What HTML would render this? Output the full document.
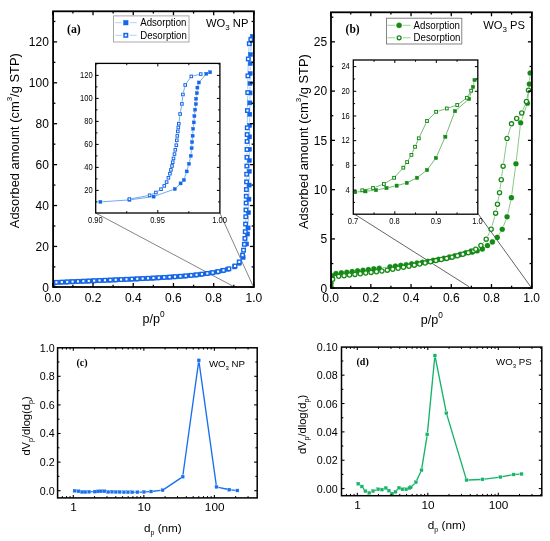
<!DOCTYPE html>
<html lang="en"><head><meta charset="utf-8"><title>WO3 NP / PS isotherms and pore size distributions</title>
<style>html,body{margin:0;padding:0;background:#fff}svg{display:block}</style></head><body>
<svg width="550" height="541" viewBox="0 0 550 541">
<rect width="550" height="541" fill="#fff"/>
<line x1="95.70" y1="213.00" x2="232.99" y2="286.20" stroke="#333" stroke-width="0.6" />
<line x1="219.90" y1="213.00" x2="253.10" y2="286.20" stroke="#333" stroke-width="0.6" />
<clipPath id="ca"><rect x="53.10" y="11.30" width="201.40" height="275.70"/></clipPath>
<g clip-path="url(#ca)">
<path fill="none" stroke="#8dbcf3" stroke-width="0.8" d="M230.69 268.27L231.54 267.97M241.02 260.68L241.39 260.13M243.95 254.37L245.81 247.05M246.90 240.76L247.24 237.18M248.17 224.74L248.43 215.84M248.61 209.45L248.81 202.33M248.96 195.93L249.12 188.27M249.22 181.88L249.29 174.58M249.34 168.18L249.37 163.73M249.42 157.33L249.46 152.52M249.50 146.12L249.54 140.07M249.59 133.67L249.64 128.69M249.70 122.29L249.74 117.48M249.80 111.08L249.85 106.10M249.93 99.70L249.97 96.14M250.03 89.74L250.04 86.71M250.09 80.31L250.13 76.75M250.20 70.35L250.23 66.79M250.34 60.39L250.41 57.72M250.75 51.33L251.45 42.23"/>
<path fill="none" stroke="#8dbcf3" stroke-width="0.8" d="M231.79 267.46L232.09 267.32M240.64 259.03L241.12 258.04M245.07 235.24L245.09 234.87M245.39 228.48L245.44 227.23M245.67 220.83L245.70 219.93M245.88 213.54L245.89 213.18M246.05 206.78L246.06 206.24M246.20 199.84L246.20 199.48M246.32 193.08L246.33 192.72M246.45 186.32L246.48 185.07M246.60 178.67L246.62 177.42M246.74 171.03L246.78 169.24M246.87 162.84L246.89 160.53M246.95 154.13L246.97 152.70M247.03 146.30L247.05 144.70M247.12 138.30L247.13 137.76M247.20 131.36L247.21 131.00M247.28 124.60L247.42 113.75M247.51 107.35L247.70 95.78M247.78 89.38L247.88 79.06M247.98 72.66L248.21 62.16M248.49 55.77L249.06 46.86"/>
<rect x="50.90" y="283.20" width="4.20" height="4.20" fill="#1466e8" stroke="#1466e8" stroke-width="0.4"/>
<rect x="53.11" y="280.44" width="4.20" height="4.20" fill="#1466e8" stroke="#1466e8" stroke-width="0.4"/>
<rect x="58.50" y="280.21" width="4.20" height="4.20" fill="#1466e8" stroke="#1466e8" stroke-width="0.4"/>
<rect x="63.89" y="279.98" width="4.20" height="4.20" fill="#1466e8" stroke="#1466e8" stroke-width="0.4"/>
<rect x="69.28" y="279.75" width="4.20" height="4.20" fill="#1466e8" stroke="#1466e8" stroke-width="0.4"/>
<rect x="74.67" y="279.52" width="4.20" height="4.20" fill="#1466e8" stroke="#1466e8" stroke-width="0.4"/>
<rect x="80.06" y="279.29" width="4.20" height="4.20" fill="#1466e8" stroke="#1466e8" stroke-width="0.4"/>
<rect x="85.45" y="279.06" width="4.20" height="4.20" fill="#1466e8" stroke="#1466e8" stroke-width="0.4"/>
<rect x="90.84" y="278.83" width="4.20" height="4.20" fill="#1466e8" stroke="#1466e8" stroke-width="0.4"/>
<rect x="96.23" y="278.60" width="4.20" height="4.20" fill="#1466e8" stroke="#1466e8" stroke-width="0.4"/>
<rect x="101.62" y="278.37" width="4.20" height="4.20" fill="#1466e8" stroke="#1466e8" stroke-width="0.4"/>
<rect x="107.01" y="278.13" width="4.20" height="4.20" fill="#1466e8" stroke="#1466e8" stroke-width="0.4"/>
<rect x="112.40" y="277.90" width="4.20" height="4.20" fill="#1466e8" stroke="#1466e8" stroke-width="0.4"/>
<rect x="117.79" y="277.66" width="4.20" height="4.20" fill="#1466e8" stroke="#1466e8" stroke-width="0.4"/>
<rect x="123.18" y="277.42" width="4.20" height="4.20" fill="#1466e8" stroke="#1466e8" stroke-width="0.4"/>
<rect x="128.57" y="277.18" width="4.20" height="4.20" fill="#1466e8" stroke="#1466e8" stroke-width="0.4"/>
<rect x="133.96" y="276.93" width="4.20" height="4.20" fill="#1466e8" stroke="#1466e8" stroke-width="0.4"/>
<rect x="139.34" y="276.67" width="4.20" height="4.20" fill="#1466e8" stroke="#1466e8" stroke-width="0.4"/>
<rect x="144.73" y="276.41" width="4.20" height="4.20" fill="#1466e8" stroke="#1466e8" stroke-width="0.4"/>
<rect x="150.12" y="276.13" width="4.20" height="4.20" fill="#1466e8" stroke="#1466e8" stroke-width="0.4"/>
<rect x="155.51" y="275.84" width="4.20" height="4.20" fill="#1466e8" stroke="#1466e8" stroke-width="0.4"/>
<rect x="160.90" y="275.52" width="4.20" height="4.20" fill="#1466e8" stroke="#1466e8" stroke-width="0.4"/>
<rect x="166.29" y="275.19" width="4.20" height="4.20" fill="#1466e8" stroke="#1466e8" stroke-width="0.4"/>
<rect x="171.68" y="274.83" width="4.20" height="4.20" fill="#1466e8" stroke="#1466e8" stroke-width="0.4"/>
<rect x="177.07" y="274.43" width="4.20" height="4.20" fill="#1466e8" stroke="#1466e8" stroke-width="0.4"/>
<rect x="182.46" y="274.00" width="4.20" height="4.20" fill="#1466e8" stroke="#1466e8" stroke-width="0.4"/>
<rect x="187.85" y="273.51" width="4.20" height="4.20" fill="#1466e8" stroke="#1466e8" stroke-width="0.4"/>
<rect x="193.24" y="272.97" width="4.20" height="4.20" fill="#1466e8" stroke="#1466e8" stroke-width="0.4"/>
<rect x="198.63" y="272.36" width="4.20" height="4.20" fill="#1466e8" stroke="#1466e8" stroke-width="0.4"/>
<rect x="204.02" y="271.66" width="4.20" height="4.20" fill="#1466e8" stroke="#1466e8" stroke-width="0.4"/>
<rect x="209.41" y="270.85" width="4.20" height="4.20" fill="#1466e8" stroke="#1466e8" stroke-width="0.4"/>
<rect x="214.80" y="269.89" width="4.20" height="4.20" fill="#1466e8" stroke="#1466e8" stroke-width="0.4"/>
<rect x="220.19" y="268.72" width="4.20" height="4.20" fill="#1466e8" stroke="#1466e8" stroke-width="0.4"/>
<rect x="225.58" y="267.24" width="4.20" height="4.20" fill="#1466e8" stroke="#1466e8" stroke-width="0.4"/>
<rect x="232.45" y="264.80" width="4.20" height="4.20" fill="#1466e8" stroke="#1466e8" stroke-width="0.4"/>
<rect x="237.15" y="261.24" width="4.20" height="4.20" fill="#1466e8" stroke="#1466e8" stroke-width="0.4"/>
<rect x="241.06" y="255.37" width="4.20" height="4.20" fill="#1466e8" stroke="#1466e8" stroke-width="0.4"/>
<rect x="244.50" y="241.85" width="4.20" height="4.20" fill="#1466e8" stroke="#1466e8" stroke-width="0.4"/>
<rect x="245.44" y="231.89" width="4.20" height="4.20" fill="#1466e8" stroke="#1466e8" stroke-width="0.4"/>
<rect x="245.97" y="225.84" width="4.20" height="4.20" fill="#1466e8" stroke="#1466e8" stroke-width="0.4"/>
<rect x="246.42" y="210.54" width="4.20" height="4.20" fill="#1466e8" stroke="#1466e8" stroke-width="0.4"/>
<rect x="246.80" y="197.03" width="4.20" height="4.20" fill="#1466e8" stroke="#1466e8" stroke-width="0.4"/>
<rect x="247.09" y="182.97" width="4.20" height="4.20" fill="#1466e8" stroke="#1466e8" stroke-width="0.4"/>
<rect x="247.22" y="169.28" width="4.20" height="4.20" fill="#1466e8" stroke="#1466e8" stroke-width="0.4"/>
<rect x="247.30" y="158.43" width="4.20" height="4.20" fill="#1466e8" stroke="#1466e8" stroke-width="0.4"/>
<rect x="247.38" y="147.22" width="4.20" height="4.20" fill="#1466e8" stroke="#1466e8" stroke-width="0.4"/>
<rect x="247.46" y="134.77" width="4.20" height="4.20" fill="#1466e8" stroke="#1466e8" stroke-width="0.4"/>
<rect x="247.57" y="123.39" width="4.20" height="4.20" fill="#1466e8" stroke="#1466e8" stroke-width="0.4"/>
<rect x="247.67" y="112.18" width="4.20" height="4.20" fill="#1466e8" stroke="#1466e8" stroke-width="0.4"/>
<rect x="247.78" y="100.80" width="4.20" height="4.20" fill="#1466e8" stroke="#1466e8" stroke-width="0.4"/>
<rect x="247.91" y="90.84" width="4.20" height="4.20" fill="#1466e8" stroke="#1466e8" stroke-width="0.4"/>
<rect x="247.95" y="81.41" width="4.20" height="4.20" fill="#1466e8" stroke="#1466e8" stroke-width="0.4"/>
<rect x="248.08" y="71.45" width="4.20" height="4.20" fill="#1466e8" stroke="#1466e8" stroke-width="0.4"/>
<rect x="248.16" y="61.49" width="4.20" height="4.20" fill="#1466e8" stroke="#1466e8" stroke-width="0.4"/>
<rect x="248.40" y="52.42" width="4.20" height="4.20" fill="#1466e8" stroke="#1466e8" stroke-width="0.4"/>
<rect x="249.60" y="36.94" width="4.20" height="4.20" fill="#1466e8" stroke="#1466e8" stroke-width="0.4"/>
<rect x="250.21" y="34.28" width="4.20" height="4.20" fill="#1466e8" stroke="#1466e8" stroke-width="0.4"/>
<rect x="54.67" y="280.58" width="3.50" height="3.50" fill="#fff" stroke="#1466e8" stroke-width="1.4"/>
<rect x="60.06" y="280.35" width="3.50" height="3.50" fill="#fff" stroke="#1466e8" stroke-width="1.4"/>
<rect x="65.45" y="280.12" width="3.50" height="3.50" fill="#fff" stroke="#1466e8" stroke-width="1.4"/>
<rect x="70.84" y="279.89" width="3.50" height="3.50" fill="#fff" stroke="#1466e8" stroke-width="1.4"/>
<rect x="76.23" y="279.66" width="3.50" height="3.50" fill="#fff" stroke="#1466e8" stroke-width="1.4"/>
<rect x="81.62" y="279.43" width="3.50" height="3.50" fill="#fff" stroke="#1466e8" stroke-width="1.4"/>
<rect x="87.01" y="279.20" width="3.50" height="3.50" fill="#fff" stroke="#1466e8" stroke-width="1.4"/>
<rect x="92.40" y="278.96" width="3.50" height="3.50" fill="#fff" stroke="#1466e8" stroke-width="1.4"/>
<rect x="97.79" y="278.73" width="3.50" height="3.50" fill="#fff" stroke="#1466e8" stroke-width="1.4"/>
<rect x="103.18" y="278.50" width="3.50" height="3.50" fill="#fff" stroke="#1466e8" stroke-width="1.4"/>
<rect x="108.56" y="278.27" width="3.50" height="3.50" fill="#fff" stroke="#1466e8" stroke-width="1.4"/>
<rect x="113.95" y="278.03" width="3.50" height="3.50" fill="#fff" stroke="#1466e8" stroke-width="1.4"/>
<rect x="119.34" y="277.80" width="3.50" height="3.50" fill="#fff" stroke="#1466e8" stroke-width="1.4"/>
<rect x="124.73" y="277.56" width="3.50" height="3.50" fill="#fff" stroke="#1466e8" stroke-width="1.4"/>
<rect x="130.12" y="277.31" width="3.50" height="3.50" fill="#fff" stroke="#1466e8" stroke-width="1.4"/>
<rect x="135.51" y="277.06" width="3.50" height="3.50" fill="#fff" stroke="#1466e8" stroke-width="1.4"/>
<rect x="140.90" y="276.80" width="3.50" height="3.50" fill="#fff" stroke="#1466e8" stroke-width="1.4"/>
<rect x="146.29" y="276.53" width="3.50" height="3.50" fill="#fff" stroke="#1466e8" stroke-width="1.4"/>
<rect x="151.68" y="276.25" width="3.50" height="3.50" fill="#fff" stroke="#1466e8" stroke-width="1.4"/>
<rect x="157.07" y="275.95" width="3.50" height="3.50" fill="#fff" stroke="#1466e8" stroke-width="1.4"/>
<rect x="162.46" y="275.64" width="3.50" height="3.50" fill="#fff" stroke="#1466e8" stroke-width="1.4"/>
<rect x="167.85" y="275.30" width="3.50" height="3.50" fill="#fff" stroke="#1466e8" stroke-width="1.4"/>
<rect x="173.24" y="274.93" width="3.50" height="3.50" fill="#fff" stroke="#1466e8" stroke-width="1.4"/>
<rect x="178.63" y="274.53" width="3.50" height="3.50" fill="#fff" stroke="#1466e8" stroke-width="1.4"/>
<rect x="184.02" y="274.08" width="3.50" height="3.50" fill="#fff" stroke="#1466e8" stroke-width="1.4"/>
<rect x="189.41" y="273.59" width="3.50" height="3.50" fill="#fff" stroke="#1466e8" stroke-width="1.4"/>
<rect x="194.80" y="273.03" width="3.50" height="3.50" fill="#fff" stroke="#1466e8" stroke-width="1.4"/>
<rect x="200.19" y="272.40" width="3.50" height="3.50" fill="#fff" stroke="#1466e8" stroke-width="1.4"/>
<rect x="205.58" y="271.68" width="3.50" height="3.50" fill="#fff" stroke="#1466e8" stroke-width="1.4"/>
<rect x="210.96" y="270.83" width="3.50" height="3.50" fill="#fff" stroke="#1466e8" stroke-width="1.4"/>
<rect x="216.35" y="269.83" width="3.50" height="3.50" fill="#fff" stroke="#1466e8" stroke-width="1.4"/>
<rect x="221.74" y="268.60" width="3.50" height="3.50" fill="#fff" stroke="#1466e8" stroke-width="1.4"/>
<rect x="227.13" y="267.05" width="3.50" height="3.50" fill="#fff" stroke="#1466e8" stroke-width="1.4"/>
<rect x="233.25" y="264.23" width="3.50" height="3.50" fill="#fff" stroke="#1466e8" stroke-width="1.4"/>
<rect x="237.50" y="260.16" width="3.50" height="3.50" fill="#fff" stroke="#1466e8" stroke-width="1.4"/>
<rect x="240.77" y="253.41" width="3.50" height="3.50" fill="#fff" stroke="#1466e8" stroke-width="1.4"/>
<rect x="241.79" y="248.43" width="3.50" height="3.50" fill="#fff" stroke="#1466e8" stroke-width="1.4"/>
<rect x="242.61" y="242.56" width="3.50" height="3.50" fill="#fff" stroke="#1466e8" stroke-width="1.4"/>
<rect x="243.15" y="236.69" width="3.50" height="3.50" fill="#fff" stroke="#1466e8" stroke-width="1.4"/>
<rect x="243.52" y="229.93" width="3.50" height="3.50" fill="#fff" stroke="#1466e8" stroke-width="1.4"/>
<rect x="243.81" y="222.28" width="3.50" height="3.50" fill="#fff" stroke="#1466e8" stroke-width="1.4"/>
<rect x="244.05" y="214.99" width="3.50" height="3.50" fill="#fff" stroke="#1466e8" stroke-width="1.4"/>
<rect x="244.22" y="208.23" width="3.50" height="3.50" fill="#fff" stroke="#1466e8" stroke-width="1.4"/>
<rect x="244.39" y="201.29" width="3.50" height="3.50" fill="#fff" stroke="#1466e8" stroke-width="1.4"/>
<rect x="244.51" y="194.53" width="3.50" height="3.50" fill="#fff" stroke="#1466e8" stroke-width="1.4"/>
<rect x="244.64" y="187.77" width="3.50" height="3.50" fill="#fff" stroke="#1466e8" stroke-width="1.4"/>
<rect x="244.80" y="180.12" width="3.50" height="3.50" fill="#fff" stroke="#1466e8" stroke-width="1.4"/>
<rect x="244.93" y="172.47" width="3.50" height="3.50" fill="#fff" stroke="#1466e8" stroke-width="1.4"/>
<rect x="245.09" y="164.29" width="3.50" height="3.50" fill="#fff" stroke="#1466e8" stroke-width="1.4"/>
<rect x="245.17" y="155.58" width="3.50" height="3.50" fill="#fff" stroke="#1466e8" stroke-width="1.4"/>
<rect x="245.25" y="147.75" width="3.50" height="3.50" fill="#fff" stroke="#1466e8" stroke-width="1.4"/>
<rect x="245.33" y="139.75" width="3.50" height="3.50" fill="#fff" stroke="#1466e8" stroke-width="1.4"/>
<rect x="245.41" y="132.81" width="3.50" height="3.50" fill="#fff" stroke="#1466e8" stroke-width="1.4"/>
<rect x="245.50" y="126.05" width="3.50" height="3.50" fill="#fff" stroke="#1466e8" stroke-width="1.4"/>
<rect x="245.71" y="108.80" width="3.50" height="3.50" fill="#fff" stroke="#1466e8" stroke-width="1.4"/>
<rect x="246.00" y="90.83" width="3.50" height="3.50" fill="#fff" stroke="#1466e8" stroke-width="1.4"/>
<rect x="246.16" y="74.11" width="3.50" height="3.50" fill="#fff" stroke="#1466e8" stroke-width="1.4"/>
<rect x="246.53" y="57.22" width="3.50" height="3.50" fill="#fff" stroke="#1466e8" stroke-width="1.4"/>
<rect x="247.52" y="41.92" width="3.50" height="3.50" fill="#fff" stroke="#1466e8" stroke-width="1.4"/>
<rect x="249.04" y="37.83" width="3.50" height="3.50" fill="#fff" stroke="#1466e8" stroke-width="1.4"/>
</g>
<rect x="53.10" y="11.30" width="200.80" height="275.70" fill="none" stroke="#000" stroke-width="1.8"/>
<line x1="52.80" y1="287.00" x2="52.80" y2="283.00" stroke="#000" stroke-width="1.3" />
<line x1="52.80" y1="11.30" x2="52.80" y2="15.30" stroke="#000" stroke-width="1.3" />
<line x1="93.02" y1="287.00" x2="93.02" y2="283.00" stroke="#000" stroke-width="1.3" />
<line x1="93.02" y1="11.30" x2="93.02" y2="15.30" stroke="#000" stroke-width="1.3" />
<line x1="133.24" y1="287.00" x2="133.24" y2="283.00" stroke="#000" stroke-width="1.3" />
<line x1="133.24" y1="11.30" x2="133.24" y2="15.30" stroke="#000" stroke-width="1.3" />
<line x1="173.46" y1="287.00" x2="173.46" y2="283.00" stroke="#000" stroke-width="1.3" />
<line x1="173.46" y1="11.30" x2="173.46" y2="15.30" stroke="#000" stroke-width="1.3" />
<line x1="213.68" y1="287.00" x2="213.68" y2="283.00" stroke="#000" stroke-width="1.3" />
<line x1="213.68" y1="11.30" x2="213.68" y2="15.30" stroke="#000" stroke-width="1.3" />
<line x1="253.90" y1="287.00" x2="253.90" y2="283.00" stroke="#000" stroke-width="1.3" />
<line x1="253.90" y1="11.30" x2="253.90" y2="15.30" stroke="#000" stroke-width="1.3" />
<line x1="72.91" y1="287.00" x2="72.91" y2="284.70" stroke="#000" stroke-width="1.3" />
<line x1="72.91" y1="11.30" x2="72.91" y2="13.60" stroke="#000" stroke-width="1.3" />
<line x1="113.13" y1="287.00" x2="113.13" y2="284.70" stroke="#000" stroke-width="1.3" />
<line x1="113.13" y1="11.30" x2="113.13" y2="13.60" stroke="#000" stroke-width="1.3" />
<line x1="153.35" y1="287.00" x2="153.35" y2="284.70" stroke="#000" stroke-width="1.3" />
<line x1="153.35" y1="11.30" x2="153.35" y2="13.60" stroke="#000" stroke-width="1.3" />
<line x1="193.57" y1="287.00" x2="193.57" y2="284.70" stroke="#000" stroke-width="1.3" />
<line x1="193.57" y1="11.30" x2="193.57" y2="13.60" stroke="#000" stroke-width="1.3" />
<line x1="233.79" y1="287.00" x2="233.79" y2="284.70" stroke="#000" stroke-width="1.3" />
<line x1="233.79" y1="11.30" x2="233.79" y2="13.60" stroke="#000" stroke-width="1.3" />
<line x1="53.10" y1="287.35" x2="57.10" y2="287.35" stroke="#000" stroke-width="1.3" />
<line x1="253.90" y1="287.35" x2="249.90" y2="287.35" stroke="#000" stroke-width="1.3" />
<line x1="53.10" y1="246.44" x2="57.10" y2="246.44" stroke="#000" stroke-width="1.3" />
<line x1="253.90" y1="246.44" x2="249.90" y2="246.44" stroke="#000" stroke-width="1.3" />
<line x1="53.10" y1="205.53" x2="57.10" y2="205.53" stroke="#000" stroke-width="1.3" />
<line x1="253.90" y1="205.53" x2="249.90" y2="205.53" stroke="#000" stroke-width="1.3" />
<line x1="53.10" y1="164.62" x2="57.10" y2="164.62" stroke="#000" stroke-width="1.3" />
<line x1="253.90" y1="164.62" x2="249.90" y2="164.62" stroke="#000" stroke-width="1.3" />
<line x1="53.10" y1="123.71" x2="57.10" y2="123.71" stroke="#000" stroke-width="1.3" />
<line x1="253.90" y1="123.71" x2="249.90" y2="123.71" stroke="#000" stroke-width="1.3" />
<line x1="53.10" y1="82.80" x2="57.10" y2="82.80" stroke="#000" stroke-width="1.3" />
<line x1="253.90" y1="82.80" x2="249.90" y2="82.80" stroke="#000" stroke-width="1.3" />
<line x1="53.10" y1="41.89" x2="57.10" y2="41.89" stroke="#000" stroke-width="1.3" />
<line x1="253.90" y1="41.89" x2="249.90" y2="41.89" stroke="#000" stroke-width="1.3" />
<line x1="53.10" y1="266.90" x2="55.40" y2="266.90" stroke="#000" stroke-width="1.3" />
<line x1="253.90" y1="266.90" x2="251.60" y2="266.90" stroke="#000" stroke-width="1.3" />
<line x1="53.10" y1="225.99" x2="55.40" y2="225.99" stroke="#000" stroke-width="1.3" />
<line x1="253.90" y1="225.99" x2="251.60" y2="225.99" stroke="#000" stroke-width="1.3" />
<line x1="53.10" y1="185.08" x2="55.40" y2="185.08" stroke="#000" stroke-width="1.3" />
<line x1="253.90" y1="185.08" x2="251.60" y2="185.08" stroke="#000" stroke-width="1.3" />
<line x1="53.10" y1="144.17" x2="55.40" y2="144.17" stroke="#000" stroke-width="1.3" />
<line x1="253.90" y1="144.17" x2="251.60" y2="144.17" stroke="#000" stroke-width="1.3" />
<line x1="53.10" y1="103.26" x2="55.40" y2="103.26" stroke="#000" stroke-width="1.3" />
<line x1="253.90" y1="103.26" x2="251.60" y2="103.26" stroke="#000" stroke-width="1.3" />
<line x1="53.10" y1="62.34" x2="55.40" y2="62.34" stroke="#000" stroke-width="1.3" />
<line x1="253.90" y1="62.34" x2="251.60" y2="62.34" stroke="#000" stroke-width="1.3" />
<line x1="53.10" y1="21.44" x2="55.40" y2="21.44" stroke="#000" stroke-width="1.3" />
<line x1="253.90" y1="21.44" x2="251.60" y2="21.44" stroke="#000" stroke-width="1.3" />
<text x="48.90" y="291.65" font-family='"Liberation Sans", Arial, sans-serif' font-size="12" font-weight="normal" text-anchor="end" fill="#000" >0</text>
<text x="48.90" y="250.74" font-family='"Liberation Sans", Arial, sans-serif' font-size="12" font-weight="normal" text-anchor="end" fill="#000" >20</text>
<text x="48.90" y="209.83" font-family='"Liberation Sans", Arial, sans-serif' font-size="12" font-weight="normal" text-anchor="end" fill="#000" >40</text>
<text x="48.90" y="168.92" font-family='"Liberation Sans", Arial, sans-serif' font-size="12" font-weight="normal" text-anchor="end" fill="#000" >60</text>
<text x="48.90" y="128.01" font-family='"Liberation Sans", Arial, sans-serif' font-size="12" font-weight="normal" text-anchor="end" fill="#000" >80</text>
<text x="48.90" y="87.10" font-family='"Liberation Sans", Arial, sans-serif' font-size="12" font-weight="normal" text-anchor="end" fill="#000" >100</text>
<text x="48.90" y="46.19" font-family='"Liberation Sans", Arial, sans-serif' font-size="12" font-weight="normal" text-anchor="end" fill="#000" >120</text>
<text x="52.80" y="301.60" font-family='"Liberation Sans", Arial, sans-serif' font-size="12" font-weight="normal" text-anchor="middle" fill="#000" >0.0</text>
<text x="93.02" y="301.60" font-family='"Liberation Sans", Arial, sans-serif' font-size="12" font-weight="normal" text-anchor="middle" fill="#000" >0.2</text>
<text x="133.24" y="301.60" font-family='"Liberation Sans", Arial, sans-serif' font-size="12" font-weight="normal" text-anchor="middle" fill="#000" >0.4</text>
<text x="173.46" y="301.60" font-family='"Liberation Sans", Arial, sans-serif' font-size="12" font-weight="normal" text-anchor="middle" fill="#000" >0.6</text>
<text x="213.68" y="301.60" font-family='"Liberation Sans", Arial, sans-serif' font-size="12" font-weight="normal" text-anchor="middle" fill="#000" >0.8</text>
<text x="253.90" y="301.60" font-family='"Liberation Sans", Arial, sans-serif' font-size="12" font-weight="normal" text-anchor="middle" fill="#000" >1.0</text>
<text x="153.60" y="323.00" font-family='"Liberation Sans", Arial, sans-serif' font-size="12.6" font-weight="normal" text-anchor="middle" fill="#000" >p/p<tspan dy="-6" font-size="8.3">0</tspan></text>
<text transform="translate(18.6,140.7) rotate(-90)" font-family='"Liberation Sans", Arial, sans-serif' font-size="12.9" text-anchor="middle">Adsorbed amount (cm<tspan dy="-6.2" font-size="8">3</tspan><tspan dy="6.2">/g STP)</tspan></text>
<text x="67.00" y="32.80" font-family='"Liberation Serif", "Times New Roman", serif' font-size="11.8" font-weight="bold" text-anchor="start" fill="#000" >(a)</text>
<text x="206.00" y="27.00" font-family='"Liberation Sans", Arial, sans-serif' font-size="11.2" font-weight="normal" text-anchor="start" fill="#000" >WO<tspan dy="3" font-size="8">3</tspan><tspan dy="-3"> NP</tspan></text>
<rect x="113.5" y="15.9" width="75.5" height="26.1" fill="#fff" stroke="#a0a0a0" stroke-width="0.9"/>
<line x1="115.20" y1="22.70" x2="122.00" y2="22.70" stroke="#a9cdf6" stroke-width="0.9" />
<line x1="129.60" y1="22.70" x2="136.80" y2="22.70" stroke="#a9cdf6" stroke-width="0.9" />
<line x1="115.20" y1="35.30" x2="122.00" y2="35.30" stroke="#a9cdf6" stroke-width="0.9" />
<line x1="129.60" y1="35.30" x2="136.80" y2="35.30" stroke="#a9cdf6" stroke-width="0.9" />
<rect x="123.50" y="20.40" width="4.60" height="4.60" fill="#1466e8" stroke="#1466e8" stroke-width="0.4"/>
<rect x="124.05" y="33.55" width="3.50" height="3.50" fill="#fff" stroke="#1466e8" stroke-width="1.5"/>
<text x="140.20" y="26.10" font-family='"Liberation Sans", Arial, sans-serif' font-size="10.5" font-weight="normal" text-anchor="start" fill="#000" textLength="46.2" lengthAdjust="spacingAndGlyphs">Adsorption</text>
<text x="140.20" y="38.50" font-family='"Liberation Sans", Arial, sans-serif' font-size="10.5" font-weight="normal" text-anchor="start" fill="#000" textLength="46.6" lengthAdjust="spacingAndGlyphs">Desorption</text>
<rect x="95.7" y="63.4" width="124.20" height="149.60" fill="#fff"/>
<path fill="none" stroke="#4d94ec" stroke-width="0.8" d="M204.87 75.48L200.33 80.82M198.28 84.61L198.02 85.49M197.20 89.79L197.10 91.01M196.59 95.38L196.41 96.62M196.02 101.00L195.98 101.90M195.59 106.28L195.41 107.52M194.86 111.89L194.64 113.91M194.19 118.29L194.01 120.21M193.56 124.59L193.34 126.61M192.94 130.99L192.76 133.61M192.43 137.99L192.27 139.91M191.92 144.29L191.78 146.01M191.37 150.39L191.03 153.71M190.31 158.05L189.49 161.65M188.36 165.91L187.34 169.29M186.02 173.49L184.58 177.91M182.37 181.58L182.13 181.82M179.02 184.93L176.38 187.47M172.73 189.74L155.67 195.86M151.42 196.90L131.58 199.60M127.21 200.05L102.59 201.75"/>
<path fill="none" stroke="#4d94ec" stroke-width="0.8" d="M198.56 74.62L193.44 75.88M190.03 78.19L186.47 83.21M184.68 87.14L183.42 92.36M182.67 96.69L182.13 101.71M181.51 106.07L180.49 111.83M179.81 116.18L179.09 121.52M176.58 142.49L176.52 143.01M175.83 147.35L175.77 147.65M159.15 190.40L157.75 191.30M153.89 193.39L151.61 194.41M147.44 195.71L131.56 198.69"/>
<rect x="208.55" y="70.75" width="3.10" height="3.10" fill="#1466e8" stroke="#1466e8" stroke-width="0.4"/>
<rect x="204.75" y="72.25" width="3.10" height="3.10" fill="#1466e8" stroke="#1466e8" stroke-width="0.4"/>
<rect x="197.35" y="80.95" width="3.10" height="3.10" fill="#1466e8" stroke="#1466e8" stroke-width="0.4"/>
<rect x="195.85" y="86.05" width="3.10" height="3.10" fill="#1466e8" stroke="#1466e8" stroke-width="0.4"/>
<rect x="195.35" y="91.65" width="3.10" height="3.10" fill="#1466e8" stroke="#1466e8" stroke-width="0.4"/>
<rect x="194.55" y="97.25" width="3.10" height="3.10" fill="#1466e8" stroke="#1466e8" stroke-width="0.4"/>
<rect x="194.35" y="102.55" width="3.10" height="3.10" fill="#1466e8" stroke="#1466e8" stroke-width="0.4"/>
<rect x="193.55" y="108.15" width="3.10" height="3.10" fill="#1466e8" stroke="#1466e8" stroke-width="0.4"/>
<rect x="192.85" y="114.55" width="3.10" height="3.10" fill="#1466e8" stroke="#1466e8" stroke-width="0.4"/>
<rect x="192.25" y="120.85" width="3.10" height="3.10" fill="#1466e8" stroke="#1466e8" stroke-width="0.4"/>
<rect x="191.55" y="127.25" width="3.10" height="3.10" fill="#1466e8" stroke="#1466e8" stroke-width="0.4"/>
<rect x="191.05" y="134.25" width="3.10" height="3.10" fill="#1466e8" stroke="#1466e8" stroke-width="0.4"/>
<rect x="190.55" y="140.55" width="3.10" height="3.10" fill="#1466e8" stroke="#1466e8" stroke-width="0.4"/>
<rect x="190.05" y="146.65" width="3.10" height="3.10" fill="#1466e8" stroke="#1466e8" stroke-width="0.4"/>
<rect x="189.25" y="154.35" width="3.10" height="3.10" fill="#1466e8" stroke="#1466e8" stroke-width="0.4"/>
<rect x="187.45" y="162.25" width="3.10" height="3.10" fill="#1466e8" stroke="#1466e8" stroke-width="0.4"/>
<rect x="185.15" y="169.85" width="3.10" height="3.10" fill="#1466e8" stroke="#1466e8" stroke-width="0.4"/>
<rect x="182.35" y="178.45" width="3.10" height="3.10" fill="#1466e8" stroke="#1466e8" stroke-width="0.4"/>
<rect x="179.05" y="181.85" width="3.10" height="3.10" fill="#1466e8" stroke="#1466e8" stroke-width="0.4"/>
<rect x="173.25" y="187.45" width="3.10" height="3.10" fill="#1466e8" stroke="#1466e8" stroke-width="0.4"/>
<rect x="152.05" y="195.05" width="3.10" height="3.10" fill="#1466e8" stroke="#1466e8" stroke-width="0.4"/>
<rect x="127.85" y="198.35" width="3.10" height="3.10" fill="#1466e8" stroke="#1466e8" stroke-width="0.4"/>
<rect x="98.85" y="200.35" width="3.10" height="3.10" fill="#1466e8" stroke="#1466e8" stroke-width="0.4"/>
<rect x="199.40" y="72.80" width="2.60" height="2.60" fill="#fff" stroke="#1466e8" stroke-width="1.0"/>
<rect x="190.00" y="75.10" width="2.60" height="2.60" fill="#fff" stroke="#1466e8" stroke-width="1.0"/>
<rect x="183.90" y="83.70" width="2.60" height="2.60" fill="#fff" stroke="#1466e8" stroke-width="1.0"/>
<rect x="181.60" y="93.20" width="2.60" height="2.60" fill="#fff" stroke="#1466e8" stroke-width="1.0"/>
<rect x="180.60" y="102.60" width="2.60" height="2.60" fill="#fff" stroke="#1466e8" stroke-width="1.0"/>
<rect x="178.80" y="112.70" width="2.60" height="2.60" fill="#fff" stroke="#1466e8" stroke-width="1.0"/>
<rect x="177.50" y="122.40" width="2.60" height="2.60" fill="#fff" stroke="#1466e8" stroke-width="1.0"/>
<rect x="177.00" y="126.20" width="2.60" height="2.60" fill="#fff" stroke="#1466e8" stroke-width="1.0"/>
<rect x="176.50" y="130.10" width="2.60" height="2.60" fill="#fff" stroke="#1466e8" stroke-width="1.0"/>
<rect x="176.00" y="134.60" width="2.60" height="2.60" fill="#fff" stroke="#1466e8" stroke-width="1.0"/>
<rect x="175.50" y="139.00" width="2.60" height="2.60" fill="#fff" stroke="#1466e8" stroke-width="1.0"/>
<rect x="175.00" y="143.90" width="2.60" height="2.60" fill="#fff" stroke="#1466e8" stroke-width="1.0"/>
<rect x="174.00" y="148.50" width="2.60" height="2.60" fill="#fff" stroke="#1466e8" stroke-width="1.0"/>
<rect x="173.20" y="152.80" width="2.60" height="2.60" fill="#fff" stroke="#1466e8" stroke-width="1.0"/>
<rect x="172.20" y="157.10" width="2.60" height="2.60" fill="#fff" stroke="#1466e8" stroke-width="1.0"/>
<rect x="171.40" y="160.90" width="2.60" height="2.60" fill="#fff" stroke="#1466e8" stroke-width="1.0"/>
<rect x="170.70" y="164.70" width="2.60" height="2.60" fill="#fff" stroke="#1466e8" stroke-width="1.0"/>
<rect x="169.60" y="168.60" width="2.60" height="2.60" fill="#fff" stroke="#1466e8" stroke-width="1.0"/>
<rect x="168.60" y="172.40" width="2.60" height="2.60" fill="#fff" stroke="#1466e8" stroke-width="1.0"/>
<rect x="167.10" y="176.50" width="2.60" height="2.60" fill="#fff" stroke="#1466e8" stroke-width="1.0"/>
<rect x="165.30" y="180.80" width="2.60" height="2.60" fill="#fff" stroke="#1466e8" stroke-width="1.0"/>
<rect x="163.00" y="184.60" width="2.60" height="2.60" fill="#fff" stroke="#1466e8" stroke-width="1.0"/>
<rect x="159.70" y="187.90" width="2.60" height="2.60" fill="#fff" stroke="#1466e8" stroke-width="1.0"/>
<rect x="154.60" y="191.20" width="2.60" height="2.60" fill="#fff" stroke="#1466e8" stroke-width="1.0"/>
<rect x="148.30" y="194.00" width="2.60" height="2.60" fill="#fff" stroke="#1466e8" stroke-width="1.0"/>
<rect x="128.10" y="197.80" width="2.60" height="2.60" fill="#fff" stroke="#1466e8" stroke-width="1.0"/>
<rect x="95.70" y="63.40" width="124.20" height="149.60" fill="none" stroke="#000" stroke-width="1.3"/>
<line x1="157.80" y1="213.00" x2="157.80" y2="210.00" stroke="#000" stroke-width="1.0" />
<line x1="157.80" y1="63.40" x2="157.80" y2="66.40" stroke="#000" stroke-width="1.0" />
<line x1="126.75" y1="213.00" x2="126.75" y2="211.20" stroke="#000" stroke-width="1.0" />
<line x1="126.75" y1="63.40" x2="126.75" y2="65.20" stroke="#000" stroke-width="1.0" />
<line x1="188.85" y1="213.00" x2="188.85" y2="211.20" stroke="#000" stroke-width="1.0" />
<line x1="188.85" y1="63.40" x2="188.85" y2="65.20" stroke="#000" stroke-width="1.0" />
<line x1="95.70" y1="190.40" x2="98.70" y2="190.40" stroke="#000" stroke-width="1.0" />
<line x1="219.90" y1="190.40" x2="216.90" y2="190.40" stroke="#000" stroke-width="1.0" />
<line x1="95.70" y1="167.40" x2="98.70" y2="167.40" stroke="#000" stroke-width="1.0" />
<line x1="219.90" y1="167.40" x2="216.90" y2="167.40" stroke="#000" stroke-width="1.0" />
<line x1="95.70" y1="144.40" x2="98.70" y2="144.40" stroke="#000" stroke-width="1.0" />
<line x1="219.90" y1="144.40" x2="216.90" y2="144.40" stroke="#000" stroke-width="1.0" />
<line x1="95.70" y1="121.40" x2="98.70" y2="121.40" stroke="#000" stroke-width="1.0" />
<line x1="219.90" y1="121.40" x2="216.90" y2="121.40" stroke="#000" stroke-width="1.0" />
<line x1="95.70" y1="98.40" x2="98.70" y2="98.40" stroke="#000" stroke-width="1.0" />
<line x1="219.90" y1="98.40" x2="216.90" y2="98.40" stroke="#000" stroke-width="1.0" />
<line x1="95.70" y1="75.40" x2="98.70" y2="75.40" stroke="#000" stroke-width="1.0" />
<line x1="219.90" y1="75.40" x2="216.90" y2="75.40" stroke="#000" stroke-width="1.0" />
<line x1="95.70" y1="201.90" x2="97.50" y2="201.90" stroke="#000" stroke-width="1.0" />
<line x1="219.90" y1="201.90" x2="218.10" y2="201.90" stroke="#000" stroke-width="1.0" />
<line x1="95.70" y1="178.90" x2="97.50" y2="178.90" stroke="#000" stroke-width="1.0" />
<line x1="219.90" y1="178.90" x2="218.10" y2="178.90" stroke="#000" stroke-width="1.0" />
<line x1="95.70" y1="155.90" x2="97.50" y2="155.90" stroke="#000" stroke-width="1.0" />
<line x1="219.90" y1="155.90" x2="218.10" y2="155.90" stroke="#000" stroke-width="1.0" />
<line x1="95.70" y1="132.90" x2="97.50" y2="132.90" stroke="#000" stroke-width="1.0" />
<line x1="219.90" y1="132.90" x2="218.10" y2="132.90" stroke="#000" stroke-width="1.0" />
<line x1="95.70" y1="109.90" x2="97.50" y2="109.90" stroke="#000" stroke-width="1.0" />
<line x1="219.90" y1="109.90" x2="218.10" y2="109.90" stroke="#000" stroke-width="1.0" />
<line x1="95.70" y1="86.90" x2="97.50" y2="86.90" stroke="#000" stroke-width="1.0" />
<line x1="219.90" y1="86.90" x2="218.10" y2="86.90" stroke="#000" stroke-width="1.0" />
<line x1="95.70" y1="63.90" x2="97.50" y2="63.90" stroke="#000" stroke-width="1.0" />
<line x1="219.90" y1="63.90" x2="218.10" y2="63.90" stroke="#000" stroke-width="1.0" />
<text transform="translate(92.70 193.40) scale(0.9 1)" font-family='"Liberation Sans", Arial, sans-serif' font-size="8.4" font-weight="normal" text-anchor="end" fill="#000" >20</text>
<text transform="translate(92.70 170.40) scale(0.9 1)" font-family='"Liberation Sans", Arial, sans-serif' font-size="8.4" font-weight="normal" text-anchor="end" fill="#000" >40</text>
<text transform="translate(92.70 147.40) scale(0.9 1)" font-family='"Liberation Sans", Arial, sans-serif' font-size="8.4" font-weight="normal" text-anchor="end" fill="#000" >60</text>
<text transform="translate(92.70 124.40) scale(0.9 1)" font-family='"Liberation Sans", Arial, sans-serif' font-size="8.4" font-weight="normal" text-anchor="end" fill="#000" >80</text>
<text transform="translate(92.70 101.40) scale(0.9 1)" font-family='"Liberation Sans", Arial, sans-serif' font-size="8.4" font-weight="normal" text-anchor="end" fill="#000" >100</text>
<text transform="translate(92.70 78.40) scale(0.9 1)" font-family='"Liberation Sans", Arial, sans-serif' font-size="8.4" font-weight="normal" text-anchor="end" fill="#000" >120</text>
<text transform="translate(95.40 222.70) scale(0.9 1)" font-family='"Liberation Sans", Arial, sans-serif' font-size="8.4" font-weight="normal" text-anchor="middle" fill="#000" >0.90</text>
<text transform="translate(157.50 222.70) scale(0.9 1)" font-family='"Liberation Sans", Arial, sans-serif' font-size="8.4" font-weight="normal" text-anchor="middle" fill="#000" >0.95</text>
<text transform="translate(219.60 222.70) scale(0.9 1)" font-family='"Liberation Sans", Arial, sans-serif' font-size="8.4" font-weight="normal" text-anchor="middle" fill="#000" >1.00</text>
<line x1="353.30" y1="213.40" x2="469.17" y2="286.80" stroke="#222" stroke-width="0.7" />
<line x1="477.80" y1="213.40" x2="530.90" y2="287.00" stroke="#222" stroke-width="0.7" />
<clipPath id="cb"><rect x="331.00" y="12.30" width="201.50" height="275.70"/></clipPath>
<g clip-path="url(#cb)">
<path fill="none" stroke="#6fb86f" stroke-width="0.8" d="M382.58 267.79L386.63 267.28M499.06 234.50L500.47 232.17M503.47 226.09L505.85 219.97M507.83 213.49L510.65 200.95M511.85 194.27L515.50 167.14M516.34 160.40L520.26 126.10M521.77 119.51L526.32 106.45M527.78 99.86L529.03 87.45M529.61 80.68L529.91 76.44"/>
<path fill="none" stroke="#6fb86f" stroke-width="0.8" d="M483.08 242.93L484.03 241.79M487.72 236.12L489.62 232.30M492.05 225.98L494.69 216.41M496.28 209.80L496.75 207.52M498.05 200.84L498.92 196.03M499.98 189.32L500.81 183.12M501.73 176.38L502.65 169.54M503.59 162.81L506.60 141.90M508.06 135.28L510.52 127.10M513.88 121.42L514.29 121.00M518.95 116.05L519.44 115.51M523.00 109.83L525.13 104.63M527.03 98.14L527.89 93.49"/>
<circle cx="331.00" cy="286.72" r="2.55" fill="#158a15" stroke="#158a15" stroke-width="0.3"/>
<circle cx="331.00" cy="283.27" r="2.55" fill="#158a15" stroke="#158a15" stroke-width="0.3"/>
<circle cx="331.20" cy="279.33" r="2.55" fill="#158a15" stroke="#158a15" stroke-width="0.3"/>
<circle cx="332.21" cy="275.88" r="2.55" fill="#158a15" stroke="#158a15" stroke-width="0.3"/>
<circle cx="336.01" cy="273.54" r="2.55" fill="#158a15" stroke="#158a15" stroke-width="0.3"/>
<circle cx="341.41" cy="272.88" r="2.55" fill="#158a15" stroke="#158a15" stroke-width="0.3"/>
<circle cx="346.81" cy="272.22" r="2.55" fill="#158a15" stroke="#158a15" stroke-width="0.3"/>
<circle cx="352.21" cy="271.56" r="2.55" fill="#158a15" stroke="#158a15" stroke-width="0.3"/>
<circle cx="357.61" cy="270.90" r="2.55" fill="#158a15" stroke="#158a15" stroke-width="0.3"/>
<circle cx="363.01" cy="270.23" r="2.55" fill="#158a15" stroke="#158a15" stroke-width="0.3"/>
<circle cx="368.41" cy="269.57" r="2.55" fill="#158a15" stroke="#158a15" stroke-width="0.3"/>
<circle cx="373.81" cy="268.90" r="2.55" fill="#158a15" stroke="#158a15" stroke-width="0.3"/>
<circle cx="379.21" cy="268.22" r="2.55" fill="#158a15" stroke="#158a15" stroke-width="0.3"/>
<circle cx="390.00" cy="266.85" r="2.55" fill="#158a15" stroke="#158a15" stroke-width="0.3"/>
<circle cx="395.40" cy="266.14" r="2.55" fill="#158a15" stroke="#158a15" stroke-width="0.3"/>
<circle cx="400.80" cy="265.42" r="2.55" fill="#158a15" stroke="#158a15" stroke-width="0.3"/>
<circle cx="406.20" cy="264.68" r="2.55" fill="#158a15" stroke="#158a15" stroke-width="0.3"/>
<circle cx="411.60" cy="263.91" r="2.55" fill="#158a15" stroke="#158a15" stroke-width="0.3"/>
<circle cx="417.00" cy="263.10" r="2.55" fill="#158a15" stroke="#158a15" stroke-width="0.3"/>
<circle cx="422.40" cy="262.26" r="2.55" fill="#158a15" stroke="#158a15" stroke-width="0.3"/>
<circle cx="427.80" cy="261.36" r="2.55" fill="#158a15" stroke="#158a15" stroke-width="0.3"/>
<circle cx="433.20" cy="260.41" r="2.55" fill="#158a15" stroke="#158a15" stroke-width="0.3"/>
<circle cx="438.60" cy="259.39" r="2.55" fill="#158a15" stroke="#158a15" stroke-width="0.3"/>
<circle cx="444.00" cy="258.29" r="2.55" fill="#158a15" stroke="#158a15" stroke-width="0.3"/>
<circle cx="449.40" cy="257.10" r="2.55" fill="#158a15" stroke="#158a15" stroke-width="0.3"/>
<circle cx="454.80" cy="255.80" r="2.55" fill="#158a15" stroke="#158a15" stroke-width="0.3"/>
<circle cx="460.20" cy="254.38" r="2.55" fill="#158a15" stroke="#158a15" stroke-width="0.3"/>
<circle cx="465.60" cy="252.83" r="2.55" fill="#158a15" stroke="#158a15" stroke-width="0.3"/>
<circle cx="471.00" cy="251.12" r="2.55" fill="#158a15" stroke="#158a15" stroke-width="0.3"/>
<circle cx="472.29" cy="252.10" r="2.55" fill="#158a15" stroke="#158a15" stroke-width="0.3"/>
<circle cx="477.23" cy="250.82" r="2.55" fill="#158a15" stroke="#158a15" stroke-width="0.3"/>
<circle cx="482.37" cy="248.91" r="2.55" fill="#158a15" stroke="#158a15" stroke-width="0.3"/>
<circle cx="487.46" cy="245.55" r="2.55" fill="#158a15" stroke="#158a15" stroke-width="0.3"/>
<circle cx="492.40" cy="241.88" r="2.55" fill="#158a15" stroke="#158a15" stroke-width="0.3"/>
<circle cx="497.29" cy="237.41" r="2.55" fill="#158a15" stroke="#158a15" stroke-width="0.3"/>
<circle cx="502.24" cy="229.26" r="2.55" fill="#158a15" stroke="#158a15" stroke-width="0.3"/>
<circle cx="507.08" cy="216.80" r="2.55" fill="#158a15" stroke="#158a15" stroke-width="0.3"/>
<circle cx="511.40" cy="197.64" r="2.55" fill="#158a15" stroke="#158a15" stroke-width="0.3"/>
<circle cx="515.95" cy="163.77" r="2.55" fill="#158a15" stroke="#158a15" stroke-width="0.3"/>
<circle cx="520.65" cy="122.73" r="2.55" fill="#158a15" stroke="#158a15" stroke-width="0.3"/>
<circle cx="527.44" cy="103.24" r="2.55" fill="#158a15" stroke="#158a15" stroke-width="0.3"/>
<circle cx="529.37" cy="84.07" r="2.55" fill="#158a15" stroke="#158a15" stroke-width="0.3"/>
<circle cx="530.15" cy="73.05" r="2.55" fill="#158a15" stroke="#158a15" stroke-width="0.3"/>
<circle cx="332.61" cy="279.33" r="2.10" fill="#fff" stroke="#158a15" stroke-width="1.3"/>
<circle cx="338.70" cy="276.37" r="2.10" fill="#fff" stroke="#158a15" stroke-width="1.3"/>
<circle cx="344.10" cy="275.71" r="2.10" fill="#fff" stroke="#158a15" stroke-width="1.3"/>
<circle cx="349.50" cy="275.04" r="2.10" fill="#fff" stroke="#158a15" stroke-width="1.3"/>
<circle cx="354.90" cy="274.38" r="2.10" fill="#fff" stroke="#158a15" stroke-width="1.3"/>
<circle cx="360.30" cy="273.72" r="2.10" fill="#fff" stroke="#158a15" stroke-width="1.3"/>
<circle cx="365.70" cy="273.05" r="2.10" fill="#fff" stroke="#158a15" stroke-width="1.3"/>
<circle cx="371.10" cy="272.39" r="2.10" fill="#fff" stroke="#158a15" stroke-width="1.3"/>
<circle cx="376.50" cy="271.71" r="2.10" fill="#fff" stroke="#158a15" stroke-width="1.3"/>
<circle cx="381.90" cy="271.04" r="2.10" fill="#fff" stroke="#158a15" stroke-width="1.3"/>
<circle cx="387.30" cy="270.17" r="2.10" fill="#fff" stroke="#158a15" stroke-width="1.3"/>
<circle cx="392.70" cy="269.20" r="2.10" fill="#fff" stroke="#158a15" stroke-width="1.3"/>
<circle cx="398.10" cy="268.23" r="2.10" fill="#fff" stroke="#158a15" stroke-width="1.3"/>
<circle cx="403.50" cy="267.23" r="2.10" fill="#fff" stroke="#158a15" stroke-width="1.3"/>
<circle cx="408.90" cy="266.21" r="2.10" fill="#fff" stroke="#158a15" stroke-width="1.3"/>
<circle cx="414.30" cy="265.16" r="2.10" fill="#fff" stroke="#158a15" stroke-width="1.3"/>
<circle cx="419.70" cy="264.07" r="2.10" fill="#fff" stroke="#158a15" stroke-width="1.3"/>
<circle cx="425.10" cy="262.93" r="2.10" fill="#fff" stroke="#158a15" stroke-width="1.3"/>
<circle cx="430.50" cy="261.75" r="2.10" fill="#fff" stroke="#158a15" stroke-width="1.3"/>
<circle cx="435.90" cy="260.60" r="2.10" fill="#fff" stroke="#158a15" stroke-width="1.3"/>
<circle cx="441.30" cy="259.54" r="2.10" fill="#fff" stroke="#158a15" stroke-width="1.3"/>
<circle cx="446.70" cy="258.40" r="2.10" fill="#fff" stroke="#158a15" stroke-width="1.3"/>
<circle cx="452.09" cy="257.16" r="2.10" fill="#fff" stroke="#158a15" stroke-width="1.3"/>
<circle cx="457.49" cy="255.80" r="2.10" fill="#fff" stroke="#158a15" stroke-width="1.3"/>
<circle cx="462.89" cy="254.32" r="2.10" fill="#fff" stroke="#158a15" stroke-width="1.3"/>
<circle cx="468.29" cy="252.69" r="2.10" fill="#fff" stroke="#158a15" stroke-width="1.3"/>
<circle cx="473.69" cy="250.89" r="2.10" fill="#fff" stroke="#158a15" stroke-width="1.3"/>
<circle cx="475.73" cy="249.23" r="2.10" fill="#fff" stroke="#158a15" stroke-width="1.3"/>
<circle cx="480.92" cy="245.55" r="2.10" fill="#fff" stroke="#158a15" stroke-width="1.3"/>
<circle cx="486.20" cy="239.16" r="2.10" fill="#fff" stroke="#158a15" stroke-width="1.3"/>
<circle cx="491.14" cy="229.26" r="2.10" fill="#fff" stroke="#158a15" stroke-width="1.3"/>
<circle cx="495.60" cy="213.13" r="2.10" fill="#fff" stroke="#158a15" stroke-width="1.3"/>
<circle cx="497.44" cy="204.18" r="2.10" fill="#fff" stroke="#158a15" stroke-width="1.3"/>
<circle cx="499.52" cy="192.68" r="2.10" fill="#fff" stroke="#158a15" stroke-width="1.3"/>
<circle cx="501.27" cy="179.75" r="2.10" fill="#fff" stroke="#158a15" stroke-width="1.3"/>
<circle cx="503.11" cy="166.17" r="2.10" fill="#fff" stroke="#158a15" stroke-width="1.3"/>
<circle cx="507.08" cy="138.54" r="2.10" fill="#fff" stroke="#158a15" stroke-width="1.3"/>
<circle cx="511.49" cy="123.84" r="2.10" fill="#fff" stroke="#158a15" stroke-width="1.3"/>
<circle cx="516.68" cy="118.57" r="2.10" fill="#fff" stroke="#158a15" stroke-width="1.3"/>
<circle cx="521.72" cy="112.98" r="2.10" fill="#fff" stroke="#158a15" stroke-width="1.3"/>
<circle cx="526.42" cy="101.48" r="2.10" fill="#fff" stroke="#158a15" stroke-width="1.3"/>
<circle cx="528.50" cy="90.14" r="2.10" fill="#fff" stroke="#158a15" stroke-width="1.3"/>
</g>
<rect x="331.00" y="12.30" width="200.90" height="275.70" fill="none" stroke="#000" stroke-width="1.8"/>
<line x1="330.60" y1="288.00" x2="330.60" y2="284.00" stroke="#000" stroke-width="1.3" />
<line x1="330.60" y1="12.30" x2="330.60" y2="16.30" stroke="#000" stroke-width="1.3" />
<line x1="370.82" y1="288.00" x2="370.82" y2="284.00" stroke="#000" stroke-width="1.3" />
<line x1="370.82" y1="12.30" x2="370.82" y2="16.30" stroke="#000" stroke-width="1.3" />
<line x1="411.04" y1="288.00" x2="411.04" y2="284.00" stroke="#000" stroke-width="1.3" />
<line x1="411.04" y1="12.30" x2="411.04" y2="16.30" stroke="#000" stroke-width="1.3" />
<line x1="451.26" y1="288.00" x2="451.26" y2="284.00" stroke="#000" stroke-width="1.3" />
<line x1="451.26" y1="12.30" x2="451.26" y2="16.30" stroke="#000" stroke-width="1.3" />
<line x1="491.48" y1="288.00" x2="491.48" y2="284.00" stroke="#000" stroke-width="1.3" />
<line x1="491.48" y1="12.30" x2="491.48" y2="16.30" stroke="#000" stroke-width="1.3" />
<line x1="531.70" y1="288.00" x2="531.70" y2="284.00" stroke="#000" stroke-width="1.3" />
<line x1="531.70" y1="12.30" x2="531.70" y2="16.30" stroke="#000" stroke-width="1.3" />
<line x1="350.71" y1="288.00" x2="350.71" y2="285.70" stroke="#000" stroke-width="1.3" />
<line x1="350.71" y1="12.30" x2="350.71" y2="14.60" stroke="#000" stroke-width="1.3" />
<line x1="390.93" y1="288.00" x2="390.93" y2="285.70" stroke="#000" stroke-width="1.3" />
<line x1="390.93" y1="12.30" x2="390.93" y2="14.60" stroke="#000" stroke-width="1.3" />
<line x1="431.15" y1="288.00" x2="431.15" y2="285.70" stroke="#000" stroke-width="1.3" />
<line x1="431.15" y1="12.30" x2="431.15" y2="14.60" stroke="#000" stroke-width="1.3" />
<line x1="471.37" y1="288.00" x2="471.37" y2="285.70" stroke="#000" stroke-width="1.3" />
<line x1="471.37" y1="12.30" x2="471.37" y2="14.60" stroke="#000" stroke-width="1.3" />
<line x1="511.59" y1="288.00" x2="511.59" y2="285.70" stroke="#000" stroke-width="1.3" />
<line x1="511.59" y1="12.30" x2="511.59" y2="14.60" stroke="#000" stroke-width="1.3" />
<line x1="331.00" y1="288.20" x2="335.00" y2="288.20" stroke="#000" stroke-width="1.3" />
<line x1="531.90" y1="288.20" x2="527.90" y2="288.20" stroke="#000" stroke-width="1.3" />
<line x1="331.00" y1="238.92" x2="335.00" y2="238.92" stroke="#000" stroke-width="1.3" />
<line x1="531.90" y1="238.92" x2="527.90" y2="238.92" stroke="#000" stroke-width="1.3" />
<line x1="331.00" y1="189.65" x2="335.00" y2="189.65" stroke="#000" stroke-width="1.3" />
<line x1="531.90" y1="189.65" x2="527.90" y2="189.65" stroke="#000" stroke-width="1.3" />
<line x1="331.00" y1="140.37" x2="335.00" y2="140.37" stroke="#000" stroke-width="1.3" />
<line x1="531.90" y1="140.37" x2="527.90" y2="140.37" stroke="#000" stroke-width="1.3" />
<line x1="331.00" y1="91.10" x2="335.00" y2="91.10" stroke="#000" stroke-width="1.3" />
<line x1="531.90" y1="91.10" x2="527.90" y2="91.10" stroke="#000" stroke-width="1.3" />
<line x1="331.00" y1="41.82" x2="335.00" y2="41.82" stroke="#000" stroke-width="1.3" />
<line x1="531.90" y1="41.82" x2="527.90" y2="41.82" stroke="#000" stroke-width="1.3" />
<line x1="331.00" y1="263.56" x2="333.30" y2="263.56" stroke="#000" stroke-width="1.3" />
<line x1="531.90" y1="263.56" x2="529.60" y2="263.56" stroke="#000" stroke-width="1.3" />
<line x1="331.00" y1="214.29" x2="333.30" y2="214.29" stroke="#000" stroke-width="1.3" />
<line x1="531.90" y1="214.29" x2="529.60" y2="214.29" stroke="#000" stroke-width="1.3" />
<line x1="331.00" y1="165.01" x2="333.30" y2="165.01" stroke="#000" stroke-width="1.3" />
<line x1="531.90" y1="165.01" x2="529.60" y2="165.01" stroke="#000" stroke-width="1.3" />
<line x1="331.00" y1="115.74" x2="333.30" y2="115.74" stroke="#000" stroke-width="1.3" />
<line x1="531.90" y1="115.74" x2="529.60" y2="115.74" stroke="#000" stroke-width="1.3" />
<line x1="331.00" y1="66.46" x2="333.30" y2="66.46" stroke="#000" stroke-width="1.3" />
<line x1="531.90" y1="66.46" x2="529.60" y2="66.46" stroke="#000" stroke-width="1.3" />
<line x1="331.00" y1="17.19" x2="333.30" y2="17.19" stroke="#000" stroke-width="1.3" />
<line x1="531.90" y1="17.19" x2="529.60" y2="17.19" stroke="#000" stroke-width="1.3" />
<text x="327.20" y="292.50" font-family='"Liberation Sans", Arial, sans-serif' font-size="12" font-weight="normal" text-anchor="end" fill="#000" >0</text>
<text x="327.20" y="243.22" font-family='"Liberation Sans", Arial, sans-serif' font-size="12" font-weight="normal" text-anchor="end" fill="#000" >5</text>
<text x="327.20" y="193.95" font-family='"Liberation Sans", Arial, sans-serif' font-size="12" font-weight="normal" text-anchor="end" fill="#000" >10</text>
<text x="327.20" y="144.67" font-family='"Liberation Sans", Arial, sans-serif' font-size="12" font-weight="normal" text-anchor="end" fill="#000" >15</text>
<text x="327.20" y="95.40" font-family='"Liberation Sans", Arial, sans-serif' font-size="12" font-weight="normal" text-anchor="end" fill="#000" >20</text>
<text x="327.20" y="46.12" font-family='"Liberation Sans", Arial, sans-serif' font-size="12" font-weight="normal" text-anchor="end" fill="#000" >25</text>
<text x="330.60" y="302.00" font-family='"Liberation Sans", Arial, sans-serif' font-size="12" font-weight="normal" text-anchor="middle" fill="#000" >0.0</text>
<text x="370.82" y="302.00" font-family='"Liberation Sans", Arial, sans-serif' font-size="12" font-weight="normal" text-anchor="middle" fill="#000" >0.2</text>
<text x="411.04" y="302.00" font-family='"Liberation Sans", Arial, sans-serif' font-size="12" font-weight="normal" text-anchor="middle" fill="#000" >0.4</text>
<text x="451.26" y="302.00" font-family='"Liberation Sans", Arial, sans-serif' font-size="12" font-weight="normal" text-anchor="middle" fill="#000" >0.6</text>
<text x="491.48" y="302.00" font-family='"Liberation Sans", Arial, sans-serif' font-size="12" font-weight="normal" text-anchor="middle" fill="#000" >0.8</text>
<text x="531.70" y="302.00" font-family='"Liberation Sans", Arial, sans-serif' font-size="12" font-weight="normal" text-anchor="middle" fill="#000" >1.0</text>
<text x="431.80" y="324.00" font-family='"Liberation Sans", Arial, sans-serif' font-size="12.6" font-weight="normal" text-anchor="middle" fill="#000" >p/p<tspan dy="-6" font-size="8.3">0</tspan></text>
<text transform="translate(307.6,141.6) rotate(-90)" font-family='"Liberation Sans", Arial, sans-serif' font-size="12.9" text-anchor="middle">Adsorbed amount (cm<tspan dy="-6.2" font-size="8">3</tspan><tspan dy="6.2">/g STP)</tspan></text>
<text x="345.60" y="33.10" font-family='"Liberation Serif", "Times New Roman", serif' font-size="11.5" font-weight="bold" text-anchor="start" fill="#000" >(b)</text>
<text x="483.20" y="28.50" font-family='"Liberation Sans", Arial, sans-serif' font-size="11.2" font-weight="normal" text-anchor="start" fill="#000" >WO<tspan dy="3" font-size="8">3</tspan><tspan dy="-3"> PS</tspan></text>
<rect x="386.5" y="18.2" width="75.3" height="25.8" fill="#fff" stroke="#777" stroke-width="0.9"/>
<line x1="387.50" y1="25.30" x2="395.20" y2="25.30" stroke="#8fcb8f" stroke-width="0.9" />
<line x1="403.00" y1="25.30" x2="410.50" y2="25.30" stroke="#8fcb8f" stroke-width="0.9" />
<line x1="387.50" y1="37.80" x2="395.20" y2="37.80" stroke="#8fcb8f" stroke-width="0.9" />
<line x1="403.00" y1="37.80" x2="410.50" y2="37.80" stroke="#8fcb8f" stroke-width="0.9" />
<circle cx="399.10" cy="25.30" r="2.65" fill="#158a15" stroke="#158a15" stroke-width="0.3"/>
<circle cx="399.10" cy="37.80" r="1.95" fill="#fff" stroke="#158a15" stroke-width="1.3"/>
<text x="413.60" y="28.80" font-family='"Liberation Sans", Arial, sans-serif' font-size="10.5" font-weight="normal" text-anchor="start" fill="#000" textLength="46.4" lengthAdjust="spacingAndGlyphs">Adsorption</text>
<text x="413.60" y="41.00" font-family='"Liberation Sans", Arial, sans-serif' font-size="10.5" font-weight="normal" text-anchor="start" fill="#000" textLength="46.8" lengthAdjust="spacingAndGlyphs">Desorption</text>
<rect x="353.3" y="60.0" width="124.50" height="154.20" fill="#fff"/>
<path fill="none" stroke="#4fa84f" stroke-width="0.8" d="M474.06 82.34L473.54 84.56M472.24 89.18L469.76 96.62M467.19 100.48L456.81 109.52M454.15 113.35L446.15 134.55M444.33 138.99L436.87 155.81M434.47 159.93L428.43 168.07M425.11 171.48L418.89 176.32M414.85 178.87L408.95 181.83M404.49 183.54L399.01 185.06M394.36 186.23L388.84 187.47M384.15 188.47L378.35 189.63M373.62 190.37L367.78 191.03M363.01 191.49L357.59 191.91"/>
<path fill="none" stroke="#4fa84f" stroke-width="0.8" d="M469.96 92.75L468.14 95.75M464.97 99.23L459.13 103.57M454.93 105.77L449.07 107.73M444.51 109.21L438.39 111.09M434.41 113.51L428.69 119.29M425.97 123.17L419.83 136.13M417.82 140.49L415.98 144.61M414.03 148.99L412.37 152.71M410.17 156.96L408.33 160.04M405.75 164.09L404.65 165.71M401.68 169.47L395.72 176.03M392.05 179.05L385.95 182.75M381.65 184.83L375.25 187.17M370.65 188.50L364.65 189.80"/>
<rect x="472.90" y="78.30" width="3.40" height="3.40" fill="#158a15" stroke="#158a15" stroke-width="0.4"/>
<rect x="471.30" y="85.20" width="3.40" height="3.40" fill="#158a15" stroke="#158a15" stroke-width="0.4"/>
<rect x="467.30" y="97.20" width="3.40" height="3.40" fill="#158a15" stroke="#158a15" stroke-width="0.4"/>
<rect x="453.30" y="109.40" width="3.40" height="3.40" fill="#158a15" stroke="#158a15" stroke-width="0.4"/>
<rect x="443.60" y="135.10" width="3.40" height="3.40" fill="#158a15" stroke="#158a15" stroke-width="0.4"/>
<rect x="434.20" y="156.30" width="3.40" height="3.40" fill="#158a15" stroke="#158a15" stroke-width="0.4"/>
<rect x="425.30" y="168.30" width="3.40" height="3.40" fill="#158a15" stroke="#158a15" stroke-width="0.4"/>
<rect x="415.30" y="176.10" width="3.40" height="3.40" fill="#158a15" stroke="#158a15" stroke-width="0.4"/>
<rect x="405.10" y="181.20" width="3.40" height="3.40" fill="#158a15" stroke="#158a15" stroke-width="0.4"/>
<rect x="395.00" y="184.00" width="3.40" height="3.40" fill="#158a15" stroke="#158a15" stroke-width="0.4"/>
<rect x="384.80" y="186.30" width="3.40" height="3.40" fill="#158a15" stroke="#158a15" stroke-width="0.4"/>
<rect x="374.30" y="188.40" width="3.40" height="3.40" fill="#158a15" stroke="#158a15" stroke-width="0.4"/>
<rect x="363.70" y="189.60" width="3.40" height="3.40" fill="#158a15" stroke="#158a15" stroke-width="0.4"/>
<rect x="353.50" y="190.40" width="3.40" height="3.40" fill="#158a15" stroke="#158a15" stroke-width="0.4"/>
<rect x="469.80" y="89.30" width="2.80" height="2.80" fill="#fff" stroke="#158a15" stroke-width="1.0"/>
<rect x="465.50" y="96.40" width="2.80" height="2.80" fill="#fff" stroke="#158a15" stroke-width="1.0"/>
<rect x="455.80" y="103.60" width="2.80" height="2.80" fill="#fff" stroke="#158a15" stroke-width="1.0"/>
<rect x="445.40" y="107.10" width="2.80" height="2.80" fill="#fff" stroke="#158a15" stroke-width="1.0"/>
<rect x="434.70" y="110.40" width="2.80" height="2.80" fill="#fff" stroke="#158a15" stroke-width="1.0"/>
<rect x="425.60" y="119.60" width="2.80" height="2.80" fill="#fff" stroke="#158a15" stroke-width="1.0"/>
<rect x="417.40" y="136.90" width="2.80" height="2.80" fill="#fff" stroke="#158a15" stroke-width="1.0"/>
<rect x="413.60" y="145.40" width="2.80" height="2.80" fill="#fff" stroke="#158a15" stroke-width="1.0"/>
<rect x="410.00" y="153.50" width="2.80" height="2.80" fill="#fff" stroke="#158a15" stroke-width="1.0"/>
<rect x="405.70" y="160.70" width="2.80" height="2.80" fill="#fff" stroke="#158a15" stroke-width="1.0"/>
<rect x="401.90" y="166.30" width="2.80" height="2.80" fill="#fff" stroke="#158a15" stroke-width="1.0"/>
<rect x="392.70" y="176.40" width="2.80" height="2.80" fill="#fff" stroke="#158a15" stroke-width="1.0"/>
<rect x="382.50" y="182.60" width="2.80" height="2.80" fill="#fff" stroke="#158a15" stroke-width="1.0"/>
<rect x="371.60" y="186.60" width="2.80" height="2.80" fill="#fff" stroke="#158a15" stroke-width="1.0"/>
<rect x="360.90" y="188.90" width="2.80" height="2.80" fill="#fff" stroke="#158a15" stroke-width="1.0"/>
<rect x="353.30" y="60.00" width="124.50" height="154.20" fill="none" stroke="#000" stroke-width="1.3"/>
<line x1="394.80" y1="214.20" x2="394.80" y2="211.20" stroke="#000" stroke-width="1.0" />
<line x1="394.80" y1="60.00" x2="394.80" y2="63.00" stroke="#000" stroke-width="1.0" />
<line x1="436.30" y1="214.20" x2="436.30" y2="211.20" stroke="#000" stroke-width="1.0" />
<line x1="436.30" y1="60.00" x2="436.30" y2="63.00" stroke="#000" stroke-width="1.0" />
<line x1="374.05" y1="214.20" x2="374.05" y2="212.40" stroke="#000" stroke-width="1.0" />
<line x1="374.05" y1="60.00" x2="374.05" y2="61.80" stroke="#000" stroke-width="1.0" />
<line x1="415.55" y1="214.20" x2="415.55" y2="212.40" stroke="#000" stroke-width="1.0" />
<line x1="415.55" y1="60.00" x2="415.55" y2="61.80" stroke="#000" stroke-width="1.0" />
<line x1="457.05" y1="214.20" x2="457.05" y2="212.40" stroke="#000" stroke-width="1.0" />
<line x1="457.05" y1="60.00" x2="457.05" y2="61.80" stroke="#000" stroke-width="1.0" />
<line x1="353.30" y1="190.02" x2="356.30" y2="190.02" stroke="#000" stroke-width="1.0" />
<line x1="477.80" y1="190.02" x2="474.80" y2="190.02" stroke="#000" stroke-width="1.0" />
<line x1="353.30" y1="165.34" x2="356.30" y2="165.34" stroke="#000" stroke-width="1.0" />
<line x1="477.80" y1="165.34" x2="474.80" y2="165.34" stroke="#000" stroke-width="1.0" />
<line x1="353.30" y1="140.66" x2="356.30" y2="140.66" stroke="#000" stroke-width="1.0" />
<line x1="477.80" y1="140.66" x2="474.80" y2="140.66" stroke="#000" stroke-width="1.0" />
<line x1="353.30" y1="115.98" x2="356.30" y2="115.98" stroke="#000" stroke-width="1.0" />
<line x1="477.80" y1="115.98" x2="474.80" y2="115.98" stroke="#000" stroke-width="1.0" />
<line x1="353.30" y1="91.30" x2="356.30" y2="91.30" stroke="#000" stroke-width="1.0" />
<line x1="477.80" y1="91.30" x2="474.80" y2="91.30" stroke="#000" stroke-width="1.0" />
<line x1="353.30" y1="66.62" x2="356.30" y2="66.62" stroke="#000" stroke-width="1.0" />
<line x1="477.80" y1="66.62" x2="474.80" y2="66.62" stroke="#000" stroke-width="1.0" />
<line x1="353.30" y1="202.36" x2="355.10" y2="202.36" stroke="#000" stroke-width="1.0" />
<line x1="477.80" y1="202.36" x2="476.00" y2="202.36" stroke="#000" stroke-width="1.0" />
<line x1="353.30" y1="177.68" x2="355.10" y2="177.68" stroke="#000" stroke-width="1.0" />
<line x1="477.80" y1="177.68" x2="476.00" y2="177.68" stroke="#000" stroke-width="1.0" />
<line x1="353.30" y1="153.00" x2="355.10" y2="153.00" stroke="#000" stroke-width="1.0" />
<line x1="477.80" y1="153.00" x2="476.00" y2="153.00" stroke="#000" stroke-width="1.0" />
<line x1="353.30" y1="128.32" x2="355.10" y2="128.32" stroke="#000" stroke-width="1.0" />
<line x1="477.80" y1="128.32" x2="476.00" y2="128.32" stroke="#000" stroke-width="1.0" />
<line x1="353.30" y1="103.64" x2="355.10" y2="103.64" stroke="#000" stroke-width="1.0" />
<line x1="477.80" y1="103.64" x2="476.00" y2="103.64" stroke="#000" stroke-width="1.0" />
<line x1="353.30" y1="78.96" x2="355.10" y2="78.96" stroke="#000" stroke-width="1.0" />
<line x1="477.80" y1="78.96" x2="476.00" y2="78.96" stroke="#000" stroke-width="1.0" />
<text transform="translate(349.80 192.62) scale(0.9 1)" font-family='"Liberation Sans", Arial, sans-serif' font-size="8.4" font-weight="normal" text-anchor="end" fill="#000" >4</text>
<text transform="translate(349.80 167.94) scale(0.9 1)" font-family='"Liberation Sans", Arial, sans-serif' font-size="8.4" font-weight="normal" text-anchor="end" fill="#000" >8</text>
<text transform="translate(349.80 143.26) scale(0.9 1)" font-family='"Liberation Sans", Arial, sans-serif' font-size="8.4" font-weight="normal" text-anchor="end" fill="#000" >12</text>
<text transform="translate(349.80 118.58) scale(0.9 1)" font-family='"Liberation Sans", Arial, sans-serif' font-size="8.4" font-weight="normal" text-anchor="end" fill="#000" >16</text>
<text transform="translate(349.80 93.90) scale(0.9 1)" font-family='"Liberation Sans", Arial, sans-serif' font-size="8.4" font-weight="normal" text-anchor="end" fill="#000" >20</text>
<text transform="translate(349.80 69.22) scale(0.9 1)" font-family='"Liberation Sans", Arial, sans-serif' font-size="8.4" font-weight="normal" text-anchor="end" fill="#000" >24</text>
<text transform="translate(353.00 223.90) scale(0.9 1)" font-family='"Liberation Sans", Arial, sans-serif' font-size="8.4" font-weight="normal" text-anchor="middle" fill="#000" >0.7</text>
<text transform="translate(394.50 223.90) scale(0.9 1)" font-family='"Liberation Sans", Arial, sans-serif' font-size="8.4" font-weight="normal" text-anchor="middle" fill="#000" >0.8</text>
<text transform="translate(436.00 223.90) scale(0.9 1)" font-family='"Liberation Sans", Arial, sans-serif' font-size="8.4" font-weight="normal" text-anchor="middle" fill="#000" >0.9</text>
<text transform="translate(477.50 223.90) scale(0.9 1)" font-family='"Liberation Sans", Arial, sans-serif' font-size="8.4" font-weight="normal" text-anchor="middle" fill="#000" >1.0</text>
<path fill="none" stroke="#1870ee" stroke-width="1.35" d="M91.10 491.73L92.70 491.67M121.60 492.09L122.00 492.11M130.00 492.20L130.30 492.20M134.30 492.20L135.40 492.20M139.40 492.14L142.00 492.06M146.00 491.86L149.10 491.64M153.09 491.28L160.61 490.42M164.26 489.08L181.04 477.82M182.97 474.72L198.53 362.38M199.08 362.38L216.22 484.92M218.45 487.33L227.35 489.27M231.29 489.90L235.41 490.30"/>
<rect x="73.10" y="489.30" width="3.00" height="3.00" fill="#1870ee" stroke="#1870ee" stroke-width="0.3"/>
<rect x="76.90" y="489.80" width="3.00" height="3.00" fill="#1870ee" stroke="#1870ee" stroke-width="0.3"/>
<rect x="80.50" y="490.50" width="3.00" height="3.00" fill="#1870ee" stroke="#1870ee" stroke-width="0.3"/>
<rect x="83.80" y="490.50" width="3.00" height="3.00" fill="#1870ee" stroke="#1870ee" stroke-width="0.3"/>
<rect x="87.60" y="490.30" width="3.00" height="3.00" fill="#1870ee" stroke="#1870ee" stroke-width="0.3"/>
<rect x="93.20" y="490.10" width="3.00" height="3.00" fill="#1870ee" stroke="#1870ee" stroke-width="0.3"/>
<rect x="96.50" y="489.90" width="3.00" height="3.00" fill="#1870ee" stroke="#1870ee" stroke-width="0.3"/>
<rect x="99.50" y="489.80" width="3.00" height="3.00" fill="#1870ee" stroke="#1870ee" stroke-width="0.3"/>
<rect x="102.90" y="489.80" width="3.00" height="3.00" fill="#1870ee" stroke="#1870ee" stroke-width="0.3"/>
<rect x="106.70" y="490.50" width="3.00" height="3.00" fill="#1870ee" stroke="#1870ee" stroke-width="0.3"/>
<rect x="110.50" y="490.30" width="3.00" height="3.00" fill="#1870ee" stroke="#1870ee" stroke-width="0.3"/>
<rect x="114.30" y="490.50" width="3.00" height="3.00" fill="#1870ee" stroke="#1870ee" stroke-width="0.3"/>
<rect x="118.10" y="490.50" width="3.00" height="3.00" fill="#1870ee" stroke="#1870ee" stroke-width="0.3"/>
<rect x="122.50" y="490.70" width="3.00" height="3.00" fill="#1870ee" stroke="#1870ee" stroke-width="0.3"/>
<rect x="126.50" y="490.70" width="3.00" height="3.00" fill="#1870ee" stroke="#1870ee" stroke-width="0.3"/>
<rect x="130.80" y="490.70" width="3.00" height="3.00" fill="#1870ee" stroke="#1870ee" stroke-width="0.3"/>
<rect x="135.90" y="490.70" width="3.00" height="3.00" fill="#1870ee" stroke="#1870ee" stroke-width="0.3"/>
<rect x="142.50" y="490.50" width="3.00" height="3.00" fill="#1870ee" stroke="#1870ee" stroke-width="0.3"/>
<rect x="149.60" y="490.00" width="3.00" height="3.00" fill="#1870ee" stroke="#1870ee" stroke-width="0.3"/>
<rect x="161.10" y="488.70" width="3.00" height="3.00" fill="#1870ee" stroke="#1870ee" stroke-width="0.3"/>
<rect x="181.20" y="475.20" width="3.00" height="3.00" fill="#1870ee" stroke="#1870ee" stroke-width="0.3"/>
<rect x="197.30" y="358.90" width="3.00" height="3.00" fill="#1870ee" stroke="#1870ee" stroke-width="0.3"/>
<rect x="215.00" y="485.40" width="3.00" height="3.00" fill="#1870ee" stroke="#1870ee" stroke-width="0.3"/>
<rect x="227.80" y="488.20" width="3.00" height="3.00" fill="#1870ee" stroke="#1870ee" stroke-width="0.3"/>
<rect x="235.90" y="489.00" width="3.00" height="3.00" fill="#1870ee" stroke="#1870ee" stroke-width="0.3"/>
<rect x="57.60" y="347.80" width="199.60" height="150.10" fill="none" stroke="#000" stroke-width="1.5"/>
<line x1="73.30" y1="497.90" x2="73.30" y2="494.90" stroke="#000" stroke-width="1.1" />
<line x1="73.30" y1="347.80" x2="73.30" y2="350.80" stroke="#000" stroke-width="1.1" />
<line x1="143.85" y1="497.90" x2="143.85" y2="494.90" stroke="#000" stroke-width="1.1" />
<line x1="143.85" y1="347.80" x2="143.85" y2="350.80" stroke="#000" stroke-width="1.1" />
<line x1="214.40" y1="497.90" x2="214.40" y2="494.90" stroke="#000" stroke-width="1.1" />
<line x1="214.40" y1="347.80" x2="214.40" y2="350.80" stroke="#000" stroke-width="1.1" />
<line x1="62.37" y1="497.90" x2="62.37" y2="496.10" stroke="#000" stroke-width="1.0" />
<line x1="62.37" y1="347.80" x2="62.37" y2="349.60" stroke="#000" stroke-width="1.0" />
<line x1="66.46" y1="497.90" x2="66.46" y2="496.10" stroke="#000" stroke-width="1.0" />
<line x1="66.46" y1="347.80" x2="66.46" y2="349.60" stroke="#000" stroke-width="1.0" />
<line x1="70.07" y1="497.90" x2="70.07" y2="496.10" stroke="#000" stroke-width="1.0" />
<line x1="70.07" y1="347.80" x2="70.07" y2="349.60" stroke="#000" stroke-width="1.0" />
<line x1="94.54" y1="497.90" x2="94.54" y2="496.10" stroke="#000" stroke-width="1.0" />
<line x1="94.54" y1="347.80" x2="94.54" y2="349.60" stroke="#000" stroke-width="1.0" />
<line x1="106.96" y1="497.90" x2="106.96" y2="496.10" stroke="#000" stroke-width="1.0" />
<line x1="106.96" y1="347.80" x2="106.96" y2="349.60" stroke="#000" stroke-width="1.0" />
<line x1="115.78" y1="497.90" x2="115.78" y2="496.10" stroke="#000" stroke-width="1.0" />
<line x1="115.78" y1="347.80" x2="115.78" y2="349.60" stroke="#000" stroke-width="1.0" />
<line x1="122.61" y1="497.90" x2="122.61" y2="496.10" stroke="#000" stroke-width="1.0" />
<line x1="122.61" y1="347.80" x2="122.61" y2="349.60" stroke="#000" stroke-width="1.0" />
<line x1="128.20" y1="497.90" x2="128.20" y2="496.10" stroke="#000" stroke-width="1.0" />
<line x1="128.20" y1="347.80" x2="128.20" y2="349.60" stroke="#000" stroke-width="1.0" />
<line x1="132.92" y1="497.90" x2="132.92" y2="496.10" stroke="#000" stroke-width="1.0" />
<line x1="132.92" y1="347.80" x2="132.92" y2="349.60" stroke="#000" stroke-width="1.0" />
<line x1="137.01" y1="497.90" x2="137.01" y2="496.10" stroke="#000" stroke-width="1.0" />
<line x1="137.01" y1="347.80" x2="137.01" y2="349.60" stroke="#000" stroke-width="1.0" />
<line x1="140.62" y1="497.90" x2="140.62" y2="496.10" stroke="#000" stroke-width="1.0" />
<line x1="140.62" y1="347.80" x2="140.62" y2="349.60" stroke="#000" stroke-width="1.0" />
<line x1="165.09" y1="497.90" x2="165.09" y2="496.10" stroke="#000" stroke-width="1.0" />
<line x1="165.09" y1="347.80" x2="165.09" y2="349.60" stroke="#000" stroke-width="1.0" />
<line x1="177.51" y1="497.90" x2="177.51" y2="496.10" stroke="#000" stroke-width="1.0" />
<line x1="177.51" y1="347.80" x2="177.51" y2="349.60" stroke="#000" stroke-width="1.0" />
<line x1="186.33" y1="497.90" x2="186.33" y2="496.10" stroke="#000" stroke-width="1.0" />
<line x1="186.33" y1="347.80" x2="186.33" y2="349.60" stroke="#000" stroke-width="1.0" />
<line x1="193.16" y1="497.90" x2="193.16" y2="496.10" stroke="#000" stroke-width="1.0" />
<line x1="193.16" y1="347.80" x2="193.16" y2="349.60" stroke="#000" stroke-width="1.0" />
<line x1="198.75" y1="497.90" x2="198.75" y2="496.10" stroke="#000" stroke-width="1.0" />
<line x1="198.75" y1="347.80" x2="198.75" y2="349.60" stroke="#000" stroke-width="1.0" />
<line x1="203.47" y1="497.90" x2="203.47" y2="496.10" stroke="#000" stroke-width="1.0" />
<line x1="203.47" y1="347.80" x2="203.47" y2="349.60" stroke="#000" stroke-width="1.0" />
<line x1="207.56" y1="497.90" x2="207.56" y2="496.10" stroke="#000" stroke-width="1.0" />
<line x1="207.56" y1="347.80" x2="207.56" y2="349.60" stroke="#000" stroke-width="1.0" />
<line x1="211.17" y1="497.90" x2="211.17" y2="496.10" stroke="#000" stroke-width="1.0" />
<line x1="211.17" y1="347.80" x2="211.17" y2="349.60" stroke="#000" stroke-width="1.0" />
<line x1="235.64" y1="497.90" x2="235.64" y2="496.10" stroke="#000" stroke-width="1.0" />
<line x1="235.64" y1="347.80" x2="235.64" y2="349.60" stroke="#000" stroke-width="1.0" />
<line x1="248.06" y1="497.90" x2="248.06" y2="496.10" stroke="#000" stroke-width="1.0" />
<line x1="248.06" y1="347.80" x2="248.06" y2="349.60" stroke="#000" stroke-width="1.0" />
<line x1="57.60" y1="490.70" x2="60.60" y2="490.70" stroke="#000" stroke-width="1.1" />
<line x1="257.20" y1="490.70" x2="254.20" y2="490.70" stroke="#000" stroke-width="1.1" />
<line x1="57.60" y1="462.10" x2="60.60" y2="462.10" stroke="#000" stroke-width="1.1" />
<line x1="257.20" y1="462.10" x2="254.20" y2="462.10" stroke="#000" stroke-width="1.1" />
<line x1="57.60" y1="433.50" x2="60.60" y2="433.50" stroke="#000" stroke-width="1.1" />
<line x1="257.20" y1="433.50" x2="254.20" y2="433.50" stroke="#000" stroke-width="1.1" />
<line x1="57.60" y1="404.90" x2="60.60" y2="404.90" stroke="#000" stroke-width="1.1" />
<line x1="257.20" y1="404.90" x2="254.20" y2="404.90" stroke="#000" stroke-width="1.1" />
<line x1="57.60" y1="376.30" x2="60.60" y2="376.30" stroke="#000" stroke-width="1.1" />
<line x1="257.20" y1="376.30" x2="254.20" y2="376.30" stroke="#000" stroke-width="1.1" />
<line x1="57.60" y1="476.40" x2="59.40" y2="476.40" stroke="#000" stroke-width="1.1" />
<line x1="257.20" y1="476.40" x2="255.40" y2="476.40" stroke="#000" stroke-width="1.1" />
<line x1="57.60" y1="447.80" x2="59.40" y2="447.80" stroke="#000" stroke-width="1.1" />
<line x1="257.20" y1="447.80" x2="255.40" y2="447.80" stroke="#000" stroke-width="1.1" />
<line x1="57.60" y1="419.20" x2="59.40" y2="419.20" stroke="#000" stroke-width="1.1" />
<line x1="257.20" y1="419.20" x2="255.40" y2="419.20" stroke="#000" stroke-width="1.1" />
<line x1="57.60" y1="390.60" x2="59.40" y2="390.60" stroke="#000" stroke-width="1.1" />
<line x1="257.20" y1="390.60" x2="255.40" y2="390.60" stroke="#000" stroke-width="1.1" />
<line x1="57.60" y1="362.00" x2="59.40" y2="362.00" stroke="#000" stroke-width="1.1" />
<line x1="257.20" y1="362.00" x2="255.40" y2="362.00" stroke="#000" stroke-width="1.1" />
<text x="54.60" y="494.60" font-family='"Liberation Sans", Arial, sans-serif' font-size="10.7" font-weight="normal" text-anchor="end" fill="#000" >0.0</text>
<text x="54.60" y="466.00" font-family='"Liberation Sans", Arial, sans-serif' font-size="10.7" font-weight="normal" text-anchor="end" fill="#000" >0.2</text>
<text x="54.60" y="437.40" font-family='"Liberation Sans", Arial, sans-serif' font-size="10.7" font-weight="normal" text-anchor="end" fill="#000" >0.4</text>
<text x="54.60" y="408.80" font-family='"Liberation Sans", Arial, sans-serif' font-size="10.7" font-weight="normal" text-anchor="end" fill="#000" >0.6</text>
<text x="54.60" y="380.20" font-family='"Liberation Sans", Arial, sans-serif' font-size="10.7" font-weight="normal" text-anchor="end" fill="#000" >0.8</text>
<text x="54.60" y="351.60" font-family='"Liberation Sans", Arial, sans-serif' font-size="10.7" font-weight="normal" text-anchor="end" fill="#000" >1.0</text>
<text x="73.60" y="511.20" font-family='"Liberation Sans", Arial, sans-serif' font-size="11.8" font-weight="normal" text-anchor="middle" fill="#000" >1</text>
<text x="144.15" y="511.20" font-family='"Liberation Sans", Arial, sans-serif' font-size="11.8" font-weight="normal" text-anchor="middle" fill="#000" >10</text>
<text x="214.70" y="511.20" font-family='"Liberation Sans", Arial, sans-serif' font-size="11.8" font-weight="normal" text-anchor="middle" fill="#000" >100</text>
<text x="162.90" y="532.00" font-family='"Liberation Sans", Arial, sans-serif' font-size="11.7" font-weight="normal" text-anchor="middle" fill="#000" >d<tspan dy="2.8" font-size="7">p</tspan><tspan dy="-2.8"> (nm)</tspan></text>
<text transform="translate(29.7,426.0) rotate(-90)" font-family='"Liberation Sans", Arial, sans-serif' font-size="11.1" text-anchor="middle">dV<tspan dy="2.8" font-size="7.2">p</tspan><tspan dy="-2.8">/dlog(d</tspan><tspan dy="2.8" font-size="7.2">p</tspan><tspan dy="-2.8">)</tspan></text>
<text x="76.40" y="365.60" font-family='"Liberation Serif", "Times New Roman", serif' font-size="10" font-weight="bold" text-anchor="start" fill="#000" >(c)</text>
<text x="208.90" y="366.90" font-family='"Liberation Sans", Arial, sans-serif' font-size="9.7" font-weight="normal" text-anchor="start" fill="#000" >WO<tspan dy="2.8" font-size="6">3</tspan><tspan dy="-2.8"> NP</tspan></text>
<path fill="none" stroke="#17b369" stroke-width="1.35" d="M359.88 484.93L360.32 485.27M363.11 488.09L364.19 489.51M374.99 490.43L376.31 489.97M390.38 491.95L390.72 492.25M396.82 490.29L397.68 489.31M412.21 485.89L414.49 483.61M416.75 480.39L420.65 472.01M421.82 468.23L426.98 436.37M427.49 432.41L434.71 357.49M435.29 357.46L446.01 411.24M446.98 415.12L465.92 478.18M468.50 480.01L480.50 479.49M484.48 479.15L498.42 477.35M502.36 476.71L511.64 474.89M515.60 474.37L519.50 474.13"/>
<rect x="356.80" y="482.20" width="3.00" height="3.00" fill="#17b369" stroke="#17b369" stroke-width="0.3"/>
<rect x="360.40" y="485.00" width="3.00" height="3.00" fill="#17b369" stroke="#17b369" stroke-width="0.3"/>
<rect x="363.90" y="489.60" width="3.00" height="3.00" fill="#17b369" stroke="#17b369" stroke-width="0.3"/>
<rect x="367.80" y="491.40" width="3.00" height="3.00" fill="#17b369" stroke="#17b369" stroke-width="0.3"/>
<rect x="371.60" y="489.60" width="3.00" height="3.00" fill="#17b369" stroke="#17b369" stroke-width="0.3"/>
<rect x="376.70" y="487.80" width="3.00" height="3.00" fill="#17b369" stroke="#17b369" stroke-width="0.3"/>
<rect x="380.50" y="488.10" width="3.00" height="3.00" fill="#17b369" stroke="#17b369" stroke-width="0.3"/>
<rect x="384.30" y="486.50" width="3.00" height="3.00" fill="#17b369" stroke="#17b369" stroke-width="0.3"/>
<rect x="387.40" y="489.10" width="3.00" height="3.00" fill="#17b369" stroke="#17b369" stroke-width="0.3"/>
<rect x="390.70" y="492.10" width="3.00" height="3.00" fill="#17b369" stroke="#17b369" stroke-width="0.3"/>
<rect x="394.00" y="490.30" width="3.00" height="3.00" fill="#17b369" stroke="#17b369" stroke-width="0.3"/>
<rect x="397.50" y="486.30" width="3.00" height="3.00" fill="#17b369" stroke="#17b369" stroke-width="0.3"/>
<rect x="400.90" y="487.80" width="3.00" height="3.00" fill="#17b369" stroke="#17b369" stroke-width="0.3"/>
<rect x="404.70" y="487.80" width="3.00" height="3.00" fill="#17b369" stroke="#17b369" stroke-width="0.3"/>
<rect x="408.00" y="486.50" width="3.00" height="3.00" fill="#17b369" stroke="#17b369" stroke-width="0.3"/>
<rect x="409.30" y="485.80" width="3.00" height="3.00" fill="#17b369" stroke="#17b369" stroke-width="0.3"/>
<rect x="414.40" y="480.70" width="3.00" height="3.00" fill="#17b369" stroke="#17b369" stroke-width="0.3"/>
<rect x="420.00" y="468.70" width="3.00" height="3.00" fill="#17b369" stroke="#17b369" stroke-width="0.3"/>
<rect x="425.80" y="432.90" width="3.00" height="3.00" fill="#17b369" stroke="#17b369" stroke-width="0.3"/>
<rect x="433.40" y="354.00" width="3.00" height="3.00" fill="#17b369" stroke="#17b369" stroke-width="0.3"/>
<rect x="444.90" y="411.70" width="3.00" height="3.00" fill="#17b369" stroke="#17b369" stroke-width="0.3"/>
<rect x="465.00" y="478.60" width="3.00" height="3.00" fill="#17b369" stroke="#17b369" stroke-width="0.3"/>
<rect x="481.00" y="477.90" width="3.00" height="3.00" fill="#17b369" stroke="#17b369" stroke-width="0.3"/>
<rect x="498.90" y="475.60" width="3.00" height="3.00" fill="#17b369" stroke="#17b369" stroke-width="0.3"/>
<rect x="512.10" y="473.00" width="3.00" height="3.00" fill="#17b369" stroke="#17b369" stroke-width="0.3"/>
<rect x="520.00" y="472.50" width="3.00" height="3.00" fill="#17b369" stroke="#17b369" stroke-width="0.3"/>
<rect x="341.50" y="347.10" width="200.30" height="148.60" fill="none" stroke="#000" stroke-width="1.5"/>
<line x1="357.30" y1="495.70" x2="357.30" y2="492.70" stroke="#000" stroke-width="1.1" />
<line x1="357.30" y1="347.10" x2="357.30" y2="350.10" stroke="#000" stroke-width="1.1" />
<line x1="427.80" y1="495.70" x2="427.80" y2="492.70" stroke="#000" stroke-width="1.1" />
<line x1="427.80" y1="347.10" x2="427.80" y2="350.10" stroke="#000" stroke-width="1.1" />
<line x1="498.30" y1="495.70" x2="498.30" y2="492.70" stroke="#000" stroke-width="1.1" />
<line x1="498.30" y1="347.10" x2="498.30" y2="350.10" stroke="#000" stroke-width="1.1" />
<line x1="346.38" y1="495.70" x2="346.38" y2="493.90" stroke="#000" stroke-width="1.0" />
<line x1="346.38" y1="347.10" x2="346.38" y2="348.90" stroke="#000" stroke-width="1.0" />
<line x1="350.47" y1="495.70" x2="350.47" y2="493.90" stroke="#000" stroke-width="1.0" />
<line x1="350.47" y1="347.10" x2="350.47" y2="348.90" stroke="#000" stroke-width="1.0" />
<line x1="354.07" y1="495.70" x2="354.07" y2="493.90" stroke="#000" stroke-width="1.0" />
<line x1="354.07" y1="347.10" x2="354.07" y2="348.90" stroke="#000" stroke-width="1.0" />
<line x1="378.52" y1="495.70" x2="378.52" y2="493.90" stroke="#000" stroke-width="1.0" />
<line x1="378.52" y1="347.10" x2="378.52" y2="348.90" stroke="#000" stroke-width="1.0" />
<line x1="390.94" y1="495.70" x2="390.94" y2="493.90" stroke="#000" stroke-width="1.0" />
<line x1="390.94" y1="347.10" x2="390.94" y2="348.90" stroke="#000" stroke-width="1.0" />
<line x1="399.75" y1="495.70" x2="399.75" y2="493.90" stroke="#000" stroke-width="1.0" />
<line x1="399.75" y1="347.10" x2="399.75" y2="348.90" stroke="#000" stroke-width="1.0" />
<line x1="406.58" y1="495.70" x2="406.58" y2="493.90" stroke="#000" stroke-width="1.0" />
<line x1="406.58" y1="347.10" x2="406.58" y2="348.90" stroke="#000" stroke-width="1.0" />
<line x1="412.16" y1="495.70" x2="412.16" y2="493.90" stroke="#000" stroke-width="1.0" />
<line x1="412.16" y1="347.10" x2="412.16" y2="348.90" stroke="#000" stroke-width="1.0" />
<line x1="416.88" y1="495.70" x2="416.88" y2="493.90" stroke="#000" stroke-width="1.0" />
<line x1="416.88" y1="347.10" x2="416.88" y2="348.90" stroke="#000" stroke-width="1.0" />
<line x1="420.97" y1="495.70" x2="420.97" y2="493.90" stroke="#000" stroke-width="1.0" />
<line x1="420.97" y1="347.10" x2="420.97" y2="348.90" stroke="#000" stroke-width="1.0" />
<line x1="424.57" y1="495.70" x2="424.57" y2="493.90" stroke="#000" stroke-width="1.0" />
<line x1="424.57" y1="347.10" x2="424.57" y2="348.90" stroke="#000" stroke-width="1.0" />
<line x1="449.02" y1="495.70" x2="449.02" y2="493.90" stroke="#000" stroke-width="1.0" />
<line x1="449.02" y1="347.10" x2="449.02" y2="348.90" stroke="#000" stroke-width="1.0" />
<line x1="461.44" y1="495.70" x2="461.44" y2="493.90" stroke="#000" stroke-width="1.0" />
<line x1="461.44" y1="347.10" x2="461.44" y2="348.90" stroke="#000" stroke-width="1.0" />
<line x1="470.25" y1="495.70" x2="470.25" y2="493.90" stroke="#000" stroke-width="1.0" />
<line x1="470.25" y1="347.10" x2="470.25" y2="348.90" stroke="#000" stroke-width="1.0" />
<line x1="477.08" y1="495.70" x2="477.08" y2="493.90" stroke="#000" stroke-width="1.0" />
<line x1="477.08" y1="347.10" x2="477.08" y2="348.90" stroke="#000" stroke-width="1.0" />
<line x1="482.66" y1="495.70" x2="482.66" y2="493.90" stroke="#000" stroke-width="1.0" />
<line x1="482.66" y1="347.10" x2="482.66" y2="348.90" stroke="#000" stroke-width="1.0" />
<line x1="487.38" y1="495.70" x2="487.38" y2="493.90" stroke="#000" stroke-width="1.0" />
<line x1="487.38" y1="347.10" x2="487.38" y2="348.90" stroke="#000" stroke-width="1.0" />
<line x1="491.47" y1="495.70" x2="491.47" y2="493.90" stroke="#000" stroke-width="1.0" />
<line x1="491.47" y1="347.10" x2="491.47" y2="348.90" stroke="#000" stroke-width="1.0" />
<line x1="495.07" y1="495.70" x2="495.07" y2="493.90" stroke="#000" stroke-width="1.0" />
<line x1="495.07" y1="347.10" x2="495.07" y2="348.90" stroke="#000" stroke-width="1.0" />
<line x1="519.52" y1="495.70" x2="519.52" y2="493.90" stroke="#000" stroke-width="1.0" />
<line x1="519.52" y1="347.10" x2="519.52" y2="348.90" stroke="#000" stroke-width="1.0" />
<line x1="531.94" y1="495.70" x2="531.94" y2="493.90" stroke="#000" stroke-width="1.0" />
<line x1="531.94" y1="347.10" x2="531.94" y2="348.90" stroke="#000" stroke-width="1.0" />
<line x1="540.75" y1="495.70" x2="540.75" y2="493.90" stroke="#000" stroke-width="1.0" />
<line x1="540.75" y1="347.10" x2="540.75" y2="348.90" stroke="#000" stroke-width="1.0" />
<line x1="341.50" y1="488.60" x2="344.50" y2="488.60" stroke="#000" stroke-width="1.1" />
<line x1="541.80" y1="488.60" x2="538.80" y2="488.60" stroke="#000" stroke-width="1.1" />
<line x1="341.50" y1="460.24" x2="344.50" y2="460.24" stroke="#000" stroke-width="1.1" />
<line x1="541.80" y1="460.24" x2="538.80" y2="460.24" stroke="#000" stroke-width="1.1" />
<line x1="341.50" y1="431.88" x2="344.50" y2="431.88" stroke="#000" stroke-width="1.1" />
<line x1="541.80" y1="431.88" x2="538.80" y2="431.88" stroke="#000" stroke-width="1.1" />
<line x1="341.50" y1="403.52" x2="344.50" y2="403.52" stroke="#000" stroke-width="1.1" />
<line x1="541.80" y1="403.52" x2="538.80" y2="403.52" stroke="#000" stroke-width="1.1" />
<line x1="341.50" y1="375.16" x2="344.50" y2="375.16" stroke="#000" stroke-width="1.1" />
<line x1="541.80" y1="375.16" x2="538.80" y2="375.16" stroke="#000" stroke-width="1.1" />
<line x1="341.50" y1="474.42" x2="343.30" y2="474.42" stroke="#000" stroke-width="1.1" />
<line x1="541.80" y1="474.42" x2="540.00" y2="474.42" stroke="#000" stroke-width="1.1" />
<line x1="341.50" y1="446.06" x2="343.30" y2="446.06" stroke="#000" stroke-width="1.1" />
<line x1="541.80" y1="446.06" x2="540.00" y2="446.06" stroke="#000" stroke-width="1.1" />
<line x1="341.50" y1="417.70" x2="343.30" y2="417.70" stroke="#000" stroke-width="1.1" />
<line x1="541.80" y1="417.70" x2="540.00" y2="417.70" stroke="#000" stroke-width="1.1" />
<line x1="341.50" y1="389.34" x2="343.30" y2="389.34" stroke="#000" stroke-width="1.1" />
<line x1="541.80" y1="389.34" x2="540.00" y2="389.34" stroke="#000" stroke-width="1.1" />
<line x1="341.50" y1="360.98" x2="343.30" y2="360.98" stroke="#000" stroke-width="1.1" />
<line x1="541.80" y1="360.98" x2="540.00" y2="360.98" stroke="#000" stroke-width="1.1" />
<text x="337.60" y="492.80" font-family='"Liberation Sans", Arial, sans-serif' font-size="10.7" font-weight="normal" text-anchor="end" fill="#000" >0.00</text>
<text x="337.60" y="464.44" font-family='"Liberation Sans", Arial, sans-serif' font-size="10.7" font-weight="normal" text-anchor="end" fill="#000" >0.02</text>
<text x="337.60" y="436.08" font-family='"Liberation Sans", Arial, sans-serif' font-size="10.7" font-weight="normal" text-anchor="end" fill="#000" >0.04</text>
<text x="337.60" y="407.72" font-family='"Liberation Sans", Arial, sans-serif' font-size="10.7" font-weight="normal" text-anchor="end" fill="#000" >0.06</text>
<text x="337.60" y="379.36" font-family='"Liberation Sans", Arial, sans-serif' font-size="10.7" font-weight="normal" text-anchor="end" fill="#000" >0.08</text>
<text x="337.60" y="351.00" font-family='"Liberation Sans", Arial, sans-serif' font-size="10.7" font-weight="normal" text-anchor="end" fill="#000" >0.10</text>
<text x="357.60" y="509.10" font-family='"Liberation Sans", Arial, sans-serif' font-size="11.8" font-weight="normal" text-anchor="middle" fill="#000" >1</text>
<text x="428.10" y="509.10" font-family='"Liberation Sans", Arial, sans-serif' font-size="11.8" font-weight="normal" text-anchor="middle" fill="#000" >10</text>
<text x="498.60" y="509.10" font-family='"Liberation Sans", Arial, sans-serif' font-size="11.8" font-weight="normal" text-anchor="middle" fill="#000" >100</text>
<text x="446.80" y="529.00" font-family='"Liberation Sans", Arial, sans-serif' font-size="11.8" font-weight="normal" text-anchor="middle" fill="#000" >d<tspan dy="2.8" font-size="7">p</tspan><tspan dy="-2.8"> (nm)</tspan></text>
<text transform="translate(306.4,424.5) rotate(-90)" font-family='"Liberation Sans", Arial, sans-serif' font-size="11.1" text-anchor="middle">dV<tspan dy="2.8" font-size="7.2">p</tspan><tspan dy="-2.8">/dlog(d</tspan><tspan dy="2.8" font-size="7.2">p</tspan><tspan dy="-2.8">)</tspan></text>
<text x="356.50" y="365.10" font-family='"Liberation Serif", "Times New Roman", serif' font-size="10" font-weight="bold" text-anchor="start" fill="#000" >(d)</text>
<text x="496.00" y="365.10" font-family='"Liberation Sans", Arial, sans-serif' font-size="9.7" font-weight="normal" text-anchor="start" fill="#000" >WO<tspan dy="2.8" font-size="6">3</tspan><tspan dy="-2.8"> PS</tspan></text>
</svg></body></html>
